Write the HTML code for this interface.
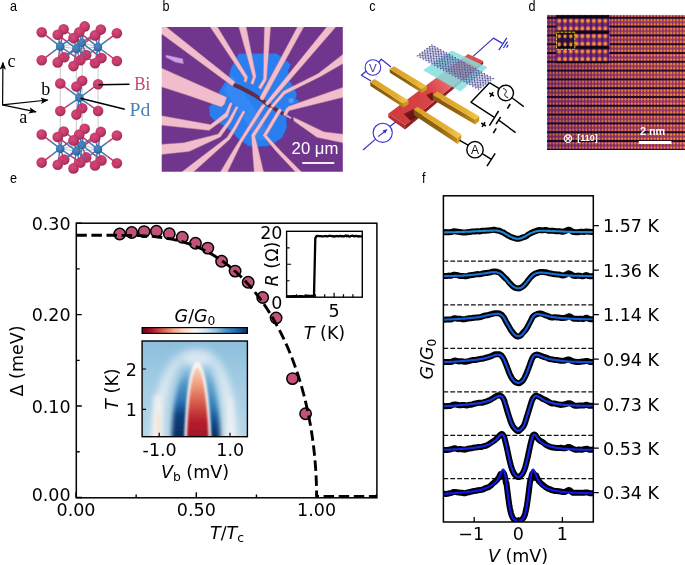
<!DOCTYPE html>
<html><head><meta charset="utf-8"><title>Figure</title>
<style>
html,body{margin:0;padding:0;background:#fff;}
svg{display:block;}
text{white-space:pre;}
</style></head><body>
<svg width="685" height="565" viewBox="0 0 685 565">
<defs>
<radialGradient id="gBi" cx="0.42" cy="0.36" r="0.7"><stop offset="0" stop-color="#d64a7c"/><stop offset="0.55" stop-color="#c53a6c"/><stop offset="1" stop-color="#8f2750"/></radialGradient><radialGradient id="gPd" cx="0.42" cy="0.36" r="0.7"><stop offset="0" stop-color="#4a8ac6"/><stop offset="0.55" stop-color="#3c78b2"/><stop offset="1" stop-color="#28527f"/></radialGradient><marker id="arr" viewBox="0 0 10 8" refX="9" refY="4" markerWidth="8" markerHeight="6.4" orient="auto" markerUnits="userSpaceOnUse"><path d="M0 0 L10 4 L0 8 L2.5 4 Z" fill="#000"/></marker><clipPath id="clipB"><rect x="161.7" y="26.9" width="181.10000000000002" height="144.9"/></clipPath><filter id="blb" x="-5%" y="-5%" width="110%" height="110%"><feGaussianBlur stdDeviation="0.45"/></filter><linearGradient id="redtop" gradientUnits="userSpaceOnUse" x1="390" y1="115" x2="480" y2="60"><stop offset="0" stop-color="#cf3a3c"/><stop offset="0.45" stop-color="#d94548"/><stop offset="0.62" stop-color="#e8686a"/><stop offset="1" stop-color="#d94a4c"/></linearGradient><linearGradient id="notch" x1="0" x2="1" y1="0" y2="1"><stop offset="0" stop-color="#8a1c20"/><stop offset="1" stop-color="#5a0e12"/></linearGradient><linearGradient id="goldtop" x1="0" x2="1" y1="0" y2="0"><stop offset="0" stop-color="#d9a024"/><stop offset="0.7" stop-color="#e5b030"/><stop offset="1" stop-color="#f2c84a"/></linearGradient><linearGradient id="goldfront" x1="0" x2="1" y1="0" y2="0"><stop offset="0" stop-color="#7f560e"/><stop offset="0.6" stop-color="#93650f"/><stop offset="1" stop-color="#c08a1c"/></linearGradient><clipPath id="clipD"><rect x="547.0" y="14.8" width="138.5" height="135.2"/></clipPath><radialGradient id="dot"><stop offset="0" stop-color="#ffaa2c"/><stop offset="0.4" stop-color="#f88a32"/><stop offset="0.75" stop-color="#d8505c" stop-opacity="0.9"/><stop offset="1" stop-color="#a83070" stop-opacity="0"/></radialGradient><linearGradient id="colg" x1="0" x2="1" y1="0" y2="0"><stop offset="0" stop-color="#561a7c"/><stop offset="0.5" stop-color="#b03a70"/><stop offset="1" stop-color="#561a7c"/></linearGradient><linearGradient id="rowg" x1="0" x2="0" y1="0" y2="1"><stop offset="0" stop-color="#0a0418" stop-opacity="0.97"/><stop offset="0.06" stop-color="#0a0418" stop-opacity="0.88"/><stop offset="0.15" stop-color="#0a0418" stop-opacity="0.0"/><stop offset="0.5" stop-color="#2a0a60" stop-opacity="0.12"/><stop offset="0.85" stop-color="#0a0418" stop-opacity="0.0"/><stop offset="0.94" stop-color="#0a0418" stop-opacity="0.88"/><stop offset="1" stop-color="#0a0418" stop-opacity="0.97"/></linearGradient><pattern id="stem" x="532.47" y="9.0" width="3.260" height="8.800" patternUnits="userSpaceOnUse"><rect width="3.260" height="8.800" fill="url(#colg)"/><ellipse cx="1.630" cy="2.376" rx="1.630" ry="2.068" fill="url(#dot)"/><ellipse cx="1.630" cy="6.468" rx="1.630" ry="2.068" fill="url(#dot)"/><ellipse cx="0" cy="4.400" rx="1.174" ry="1.144" fill="url(#dot)" opacity="0.3"/><ellipse cx="3.260" cy="4.400" rx="1.174" ry="1.144" fill="url(#dot)" opacity="0.3"/><rect width="3.260" height="8.800" fill="url(#rowg)"/></pattern><linearGradient id="dvar" x1="0" x2="1" y1="0" y2="0"><stop offset="0" stop-color="#200850" stop-opacity="0.28"/><stop offset="0.45" stop-color="#200850" stop-opacity="0.08"/><stop offset="1" stop-color="#ff9a30" stop-opacity="0.06"/></linearGradient><radialGradient id="dot2"><stop offset="0" stop-color="#ffd040"/><stop offset="0.3" stop-color="#ffab2e"/><stop offset="0.6" stop-color="#f2803a"/><stop offset="0.85" stop-color="#d2505e" stop-opacity="0.8"/><stop offset="1" stop-color="#a03078" stop-opacity="0"/></radialGradient><linearGradient id="colg2" x1="0" x2="1" y1="0" y2="0"><stop offset="0" stop-color="#4e1880"/><stop offset="0.5" stop-color="#b03c74"/><stop offset="1" stop-color="#4e1880"/></linearGradient><linearGradient id="rowg2" x1="0" x2="0" y1="0" y2="1"><stop offset="0" stop-color="#06020e" stop-opacity="0.97"/><stop offset="0.07" stop-color="#06020e" stop-opacity="0.9"/><stop offset="0.16" stop-color="#06020e" stop-opacity="0.0"/><stop offset="0.5" stop-color="#3a1078" stop-opacity="0.35"/><stop offset="0.84" stop-color="#06020e" stop-opacity="0.0"/><stop offset="0.93" stop-color="#06020e" stop-opacity="0.9"/><stop offset="1" stop-color="#06020e" stop-opacity="0.97"/></linearGradient><pattern id="stem2" x="556.42" y="16.9" width="5.75" height="15.3" patternUnits="userSpaceOnUse"><rect width="5.75" height="15.3" fill="url(#colg2)"/><ellipse cx="2.875" cy="4.13" rx="2.59" ry="2.75" fill="url(#dot2)"/><ellipse cx="2.875" cy="11.40" rx="2.59" ry="2.75" fill="url(#dot2)"/><rect width="5.75" height="15.3" fill="url(#rowg2)"/></pattern><clipPath id="clipE"><rect x="76.3" y="223.2" width="300.59999999999997" height="275.6"/></clipPath><clipPath id="clipH"><rect x="142.1" y="341.0" width="105.30000000000001" height="95.69999999999999"/></clipPath><filter id="bl3" x="-30%" y="-30%" width="160%" height="160%"><feGaussianBlur stdDeviation="3"/></filter><filter id="bl2" x="-30%" y="-30%" width="160%" height="160%"><feGaussianBlur stdDeviation="2"/></filter><filter id="bl15" x="-30%" y="-30%" width="160%" height="160%"><feGaussianBlur stdDeviation="1.3"/></filter><filter id="bl5" x="-30%" y="-30%" width="160%" height="160%"><feGaussianBlur stdDeviation="5"/></filter><linearGradient id="hbg" x1="0" x2="0" y1="0" y2="1"><stop offset="0" stop-color="#8cbfdd"/><stop offset="0.5" stop-color="#a5cde4"/><stop offset="1" stop-color="#b5d6e8"/></linearGradient><filter id="bl4" x="-30%" y="-30%" width="160%" height="160%"><feGaussianBlur stdDeviation="3.5"/></filter><linearGradient id="arcg" gradientUnits="userSpaceOnUse" x1="0" x2="0" y1="345" y2="437"><stop offset="0" stop-color="#eef3f6" stop-opacity="0.45"/><stop offset="0.45" stop-color="#f2f4f5" stop-opacity="0.7"/><stop offset="1" stop-color="#f6f4f2" stop-opacity="0.95"/></linearGradient><linearGradient id="lobe" gradientUnits="userSpaceOnUse" x1="0" x2="0" y1="368" y2="437"><stop offset="0" stop-color="#4a95c5" stop-opacity="0"/><stop offset="0.22" stop-color="#4690c3" stop-opacity="0.85"/><stop offset="0.5" stop-color="#2a70b0" stop-opacity="1"/><stop offset="0.68" stop-color="#0c3f7d" stop-opacity="1"/><stop offset="1" stop-color="#053061" stop-opacity="1"/></linearGradient><linearGradient id="lobeR" gradientUnits="userSpaceOnUse" x1="0" x2="0" y1="368" y2="437"><stop offset="0" stop-color="#4a95c5" stop-opacity="0"/><stop offset="0.25" stop-color="#4f98c7" stop-opacity="0.8"/><stop offset="0.55" stop-color="#3580ba" stop-opacity="1"/><stop offset="0.8" stop-color="#124a8a" stop-opacity="1"/><stop offset="1" stop-color="#053061" stop-opacity="1"/></linearGradient><linearGradient id="dome" x1="0" x2="0" y1="0" y2="1"><stop offset="0" stop-color="#f9d3bd"/><stop offset="0.2" stop-color="#f2a585"/><stop offset="0.45" stop-color="#d9614f"/><stop offset="0.7" stop-color="#b8222f"/><stop offset="1" stop-color="#9c0f25"/></linearGradient><linearGradient id="rdbu" x1="0" x2="1" y1="0" y2="0"><stop offset="0" stop-color="#67001f"/><stop offset="0.1" stop-color="#b2182b"/><stop offset="0.2" stop-color="#d6604d"/><stop offset="0.3" stop-color="#f4a582"/><stop offset="0.4" stop-color="#fddbc7"/><stop offset="0.5" stop-color="#f7f7f7"/><stop offset="0.6" stop-color="#d1e5f0"/><stop offset="0.7" stop-color="#92c5de"/><stop offset="0.8" stop-color="#4393c3"/><stop offset="0.9" stop-color="#2166ac"/><stop offset="1" stop-color="#053061"/></linearGradient><clipPath id="clipF"><rect x="443.4" y="195.8" width="149.89999999999998" height="326.2"/></clipPath>
</defs>
<rect width="685" height="565" fill="#fff"/>
<text transform="translate(10.1,10.7) scale(0.87,1)" font-size="14.5" font-family="'Liberation Sans','DejaVu Sans',sans-serif" fill="#000">a</text>
<text transform="translate(162.6,10.7) scale(0.87,1)" font-size="14.5" font-family="'Liberation Sans','DejaVu Sans',sans-serif" fill="#000">b</text>
<text transform="translate(369.3,10.7) scale(0.87,1)" font-size="14.5" font-family="'Liberation Sans','DejaVu Sans',sans-serif" fill="#000">c</text>
<text transform="translate(528.4,10.6) scale(0.87,1)" font-size="14.5" font-family="'Liberation Sans','DejaVu Sans',sans-serif" fill="#000">d</text>
<text transform="translate(10,183) scale(0.87,1)" font-size="14.5" font-family="'Liberation Sans','DejaVu Sans',sans-serif" fill="#000">e</text>
<text transform="translate(422.1,182.8) scale(0.87,1)" font-size="14.5" font-family="'Liberation Sans','DejaVu Sans',sans-serif" fill="#000">f</text>
<g><path d="M60.3 47 V150" stroke="#b5b5b5" stroke-width="0.7"/><path d="M76.4 47 V150" stroke="#b5b5b5" stroke-width="0.7"/><path d="M82.2 47 V150" stroke="#b5b5b5" stroke-width="0.7"/><path d="M98.1 47 V150" stroke="#b5b5b5" stroke-width="0.7"/><path d="M60.2 46.4 L76.4 48.9 L97.9 47.1 L81.8 42.7 Z" stroke="#9a9a9a" stroke-width="0.6" fill="none"/><circle cx="86.2" cy="55.1" r="5.3" fill="url(#gBi)"/><circle cx="101.5" cy="58.1" r="5.3" fill="url(#gBi)"/><circle cx="116.9" cy="61.0" r="5.3" fill="url(#gBi)"/><path d="M81.8 42.7 L73.0 50.0" stroke="#3f7ab5" stroke-width="1.5"/><path d="M73.0 50.0 L64.3 57.3" stroke="#c0386a" stroke-width="1.5"/><path d="M81.8 42.7 L72.7 36.0" stroke="#3f7ab5" stroke-width="1.5"/><path d="M72.7 36.0 L63.6 29.2" stroke="#c0386a" stroke-width="1.5"/><path d="M81.8 42.7 L84.0 48.9" stroke="#3f7ab5" stroke-width="1.5"/><path d="M84.0 48.9 L86.2 55.1" stroke="#c0386a" stroke-width="1.5"/><path d="M81.8 42.7 L83.2 34.5" stroke="#3f7ab5" stroke-width="1.5"/><path d="M83.2 34.5 L84.7 26.4" stroke="#c0386a" stroke-width="1.5"/><path d="M81.8 42.7 L81.1 51.5" stroke="#3f7ab5" stroke-width="1.5"/><path d="M81.1 51.5 L80.4 60.3" stroke="#c0386a" stroke-width="1.5"/><path d="M81.8 42.7 L80.5 37.5" stroke="#3f7ab5" stroke-width="1.5"/><path d="M80.5 37.5 L79.2 32.2" stroke="#c0386a" stroke-width="1.5"/><path d="M81.8 42.7 L91.7 50.4" stroke="#3f7ab5" stroke-width="1.5"/><path d="M91.7 50.4 L101.5 58.1" stroke="#c0386a" stroke-width="1.5"/><path d="M81.8 42.7 L91.3 36.2" stroke="#3f7ab5" stroke-width="1.5"/><path d="M91.3 36.2 L100.8 29.6" stroke="#c0386a" stroke-width="1.5"/><circle cx="81.8" cy="42.7" r="4.3" fill="url(#gPd)"/><path d="M97.9 47.1 L89.2 53.7" stroke="#3f7ab5" stroke-width="1.5"/><path d="M89.2 53.7 L80.4 60.3" stroke="#c0386a" stroke-width="1.5"/><path d="M97.9 47.1 L88.6 39.7" stroke="#3f7ab5" stroke-width="1.5"/><path d="M88.6 39.7 L79.2 32.2" stroke="#c0386a" stroke-width="1.5"/><path d="M97.9 47.1 L99.7 52.6" stroke="#3f7ab5" stroke-width="1.5"/><path d="M99.7 52.6 L101.5 58.1" stroke="#c0386a" stroke-width="1.5"/><path d="M97.9 47.1 L99.3 38.4" stroke="#3f7ab5" stroke-width="1.5"/><path d="M99.3 38.4 L100.8 29.6" stroke="#c0386a" stroke-width="1.5"/><path d="M97.9 47.1 L96.5 55.2" stroke="#3f7ab5" stroke-width="1.5"/><path d="M96.5 55.2 L95.0 63.2" stroke="#c0386a" stroke-width="1.5"/><path d="M97.9 47.1 L96.5 41.2" stroke="#3f7ab5" stroke-width="1.5"/><path d="M96.5 41.2 L95.0 35.4" stroke="#c0386a" stroke-width="1.5"/><path d="M97.9 47.1 L107.4 54.0" stroke="#3f7ab5" stroke-width="1.5"/><path d="M107.4 54.0 L116.9 61.0" stroke="#c0386a" stroke-width="1.5"/><path d="M97.9 47.1 L107.4 40.2" stroke="#3f7ab5" stroke-width="1.5"/><path d="M107.4 40.2 L116.9 33.2" stroke="#c0386a" stroke-width="1.5"/><circle cx="97.9" cy="47.1" r="4.3" fill="url(#gPd)"/><circle cx="64.3" cy="57.3" r="5.3" fill="url(#gBi)"/><circle cx="80.4" cy="60.3" r="5.3" fill="url(#gBi)"/><circle cx="95.0" cy="63.2" r="5.3" fill="url(#gBi)"/><path d="M60.2 46.4 L51.0 53.3" stroke="#3f7ab5" stroke-width="1.5"/><path d="M51.0 53.3 L41.7 60.3" stroke="#c0386a" stroke-width="1.5"/><path d="M60.2 46.4 L51.0 39.3" stroke="#3f7ab5" stroke-width="1.5"/><path d="M51.0 39.3 L41.7 32.2" stroke="#c0386a" stroke-width="1.5"/><path d="M60.2 46.4 L62.2 51.8" stroke="#3f7ab5" stroke-width="1.5"/><path d="M62.2 51.8 L64.3 57.3" stroke="#c0386a" stroke-width="1.5"/><path d="M60.2 46.4 L61.9 37.8" stroke="#3f7ab5" stroke-width="1.5"/><path d="M61.9 37.8 L63.6 29.2" stroke="#c0386a" stroke-width="1.5"/><path d="M60.2 46.4 L59.0 54.4" stroke="#3f7ab5" stroke-width="1.5"/><path d="M59.0 54.4 L57.7 62.4" stroke="#c0386a" stroke-width="1.5"/><path d="M60.2 46.4 L59.0 40.5" stroke="#3f7ab5" stroke-width="1.5"/><path d="M59.0 40.5 L57.7 34.7" stroke="#c0386a" stroke-width="1.5"/><path d="M60.2 46.4 L70.3 53.3" stroke="#3f7ab5" stroke-width="1.5"/><path d="M70.3 53.3 L80.4 60.3" stroke="#c0386a" stroke-width="1.5"/><path d="M60.2 46.4 L69.7 39.3" stroke="#3f7ab5" stroke-width="1.5"/><path d="M69.7 39.3 L79.2 32.2" stroke="#c0386a" stroke-width="1.5"/><circle cx="60.2" cy="46.4" r="4.3" fill="url(#gPd)"/><path d="M76.4 48.9 L67.1 55.6" stroke="#3f7ab5" stroke-width="1.5"/><path d="M67.1 55.6 L57.7 62.4" stroke="#c0386a" stroke-width="1.5"/><path d="M76.4 48.9 L67.1 41.8" stroke="#3f7ab5" stroke-width="1.5"/><path d="M67.1 41.8 L57.7 34.7" stroke="#c0386a" stroke-width="1.5"/><path d="M76.4 48.9 L78.4 54.6" stroke="#3f7ab5" stroke-width="1.5"/><path d="M78.4 54.6 L80.4 60.3" stroke="#c0386a" stroke-width="1.5"/><path d="M76.4 48.9 L77.8 40.5" stroke="#3f7ab5" stroke-width="1.5"/><path d="M77.8 40.5 L79.2 32.2" stroke="#c0386a" stroke-width="1.5"/><path d="M76.4 48.9 L75.0 57.5" stroke="#3f7ab5" stroke-width="1.5"/><path d="M75.0 57.5 L73.5 66.1" stroke="#c0386a" stroke-width="1.5"/><path d="M76.4 48.9 L75.0 43.5" stroke="#3f7ab5" stroke-width="1.5"/><path d="M75.0 43.5 L73.5 38.1" stroke="#c0386a" stroke-width="1.5"/><path d="M76.4 48.9 L85.7 56.0" stroke="#3f7ab5" stroke-width="1.5"/><path d="M85.7 56.0 L95.0 63.2" stroke="#c0386a" stroke-width="1.5"/><path d="M76.4 48.9 L85.7 42.1" stroke="#3f7ab5" stroke-width="1.5"/><path d="M85.7 42.1 L95.0 35.4" stroke="#c0386a" stroke-width="1.5"/><circle cx="76.4" cy="48.9" r="4.3" fill="url(#gPd)"/><circle cx="41.7" cy="60.3" r="5.3" fill="url(#gBi)"/><circle cx="57.7" cy="62.4" r="5.3" fill="url(#gBi)"/><circle cx="73.5" cy="66.1" r="5.3" fill="url(#gBi)"/><circle cx="84.7" cy="26.4" r="5.3" fill="url(#gBi)"/><circle cx="100.8" cy="29.6" r="5.3" fill="url(#gBi)"/><circle cx="116.9" cy="33.2" r="5.3" fill="url(#gBi)"/><circle cx="63.6" cy="29.2" r="5.3" fill="url(#gBi)"/><circle cx="79.2" cy="32.2" r="5.3" fill="url(#gBi)"/><circle cx="95.0" cy="35.4" r="5.3" fill="url(#gBi)"/><circle cx="41.7" cy="32.2" r="5.3" fill="url(#gBi)"/><circle cx="57.7" cy="34.7" r="5.3" fill="url(#gBi)"/><circle cx="73.5" cy="38.1" r="5.3" fill="url(#gBi)"/><circle cx="82.2" cy="108.3" r="5.3" fill="url(#gBi)"/><circle cx="60.3" cy="111.0" r="5.3" fill="url(#gBi)"/><circle cx="98.1" cy="111.0" r="5.3" fill="url(#gBi)"/><circle cx="76.4" cy="114.6" r="5.3" fill="url(#gBi)"/><path d="M79.4 97.8 L80.8 103.0" stroke="#3f7ab5" stroke-width="1.5"/><path d="M80.8 103.0 L82.2 108.3" stroke="#c0386a" stroke-width="1.5"/><path d="M79.4 97.8 L69.8 104.4" stroke="#3f7ab5" stroke-width="1.5"/><path d="M69.8 104.4 L60.3 111.0" stroke="#c0386a" stroke-width="1.5"/><path d="M79.4 97.8 L88.8 104.4" stroke="#3f7ab5" stroke-width="1.5"/><path d="M88.8 104.4 L98.1 111.0" stroke="#c0386a" stroke-width="1.5"/><path d="M79.4 97.8 L77.9 106.2" stroke="#3f7ab5" stroke-width="1.5"/><path d="M77.9 106.2 L76.4 114.6" stroke="#c0386a" stroke-width="1.5"/><path d="M79.4 97.8 L80.8 89.2" stroke="#3f7ab5" stroke-width="1.5"/><path d="M80.8 89.2 L82.2 80.7" stroke="#c0386a" stroke-width="1.5"/><path d="M79.4 97.8 L69.8 90.7" stroke="#3f7ab5" stroke-width="1.5"/><path d="M69.8 90.7 L60.3 83.5" stroke="#c0386a" stroke-width="1.5"/><path d="M79.4 97.8 L88.8 91.0" stroke="#3f7ab5" stroke-width="1.5"/><path d="M88.8 91.0 L98.1 84.2" stroke="#c0386a" stroke-width="1.5"/><path d="M79.4 97.8 L77.9 92.2" stroke="#3f7ab5" stroke-width="1.5"/><path d="M77.9 92.2 L76.4 86.5" stroke="#c0386a" stroke-width="1.5"/><circle cx="79.4" cy="97.8" r="4.3" fill="url(#gPd)"/><circle cx="82.2" cy="80.7" r="5.3" fill="url(#gBi)"/><circle cx="60.3" cy="83.5" r="5.3" fill="url(#gBi)"/><circle cx="98.1" cy="84.2" r="5.3" fill="url(#gBi)"/><circle cx="76.4" cy="86.5" r="5.3" fill="url(#gBi)"/><path d="M60.2 148.7 L76.4 151.2 L97.9 149.4 L81.8 145.0 Z" stroke="#9a9a9a" stroke-width="0.6" fill="none"/><circle cx="86.2" cy="157.4" r="5.3" fill="url(#gBi)"/><circle cx="101.5" cy="160.4" r="5.3" fill="url(#gBi)"/><circle cx="116.9" cy="163.3" r="5.3" fill="url(#gBi)"/><path d="M81.8 145.0 L73.0 152.3" stroke="#3f7ab5" stroke-width="1.5"/><path d="M73.0 152.3 L64.3 159.6" stroke="#c0386a" stroke-width="1.5"/><path d="M81.8 145.0 L72.7 138.2" stroke="#3f7ab5" stroke-width="1.5"/><path d="M72.7 138.2 L63.6 131.5" stroke="#c0386a" stroke-width="1.5"/><path d="M81.8 145.0 L84.0 151.2" stroke="#3f7ab5" stroke-width="1.5"/><path d="M84.0 151.2 L86.2 157.4" stroke="#c0386a" stroke-width="1.5"/><path d="M81.8 145.0 L83.2 136.8" stroke="#3f7ab5" stroke-width="1.5"/><path d="M83.2 136.8 L84.7 128.7" stroke="#c0386a" stroke-width="1.5"/><path d="M81.8 145.0 L81.1 153.8" stroke="#3f7ab5" stroke-width="1.5"/><path d="M81.1 153.8 L80.4 162.6" stroke="#c0386a" stroke-width="1.5"/><path d="M81.8 145.0 L80.5 139.8" stroke="#3f7ab5" stroke-width="1.5"/><path d="M80.5 139.8 L79.2 134.5" stroke="#c0386a" stroke-width="1.5"/><path d="M81.8 145.0 L91.7 152.7" stroke="#3f7ab5" stroke-width="1.5"/><path d="M91.7 152.7 L101.5 160.4" stroke="#c0386a" stroke-width="1.5"/><path d="M81.8 145.0 L91.3 138.4" stroke="#3f7ab5" stroke-width="1.5"/><path d="M91.3 138.4 L100.8 131.9" stroke="#c0386a" stroke-width="1.5"/><circle cx="81.8" cy="145.0" r="4.3" fill="url(#gPd)"/><path d="M97.9 149.4 L89.2 156.0" stroke="#3f7ab5" stroke-width="1.5"/><path d="M89.2 156.0 L80.4 162.6" stroke="#c0386a" stroke-width="1.5"/><path d="M97.9 149.4 L88.6 141.9" stroke="#3f7ab5" stroke-width="1.5"/><path d="M88.6 141.9 L79.2 134.5" stroke="#c0386a" stroke-width="1.5"/><path d="M97.9 149.4 L99.7 154.9" stroke="#3f7ab5" stroke-width="1.5"/><path d="M99.7 154.9 L101.5 160.4" stroke="#c0386a" stroke-width="1.5"/><path d="M97.9 149.4 L99.3 140.7" stroke="#3f7ab5" stroke-width="1.5"/><path d="M99.3 140.7 L100.8 131.9" stroke="#c0386a" stroke-width="1.5"/><path d="M97.9 149.4 L96.5 157.4" stroke="#3f7ab5" stroke-width="1.5"/><path d="M96.5 157.4 L95.0 165.5" stroke="#c0386a" stroke-width="1.5"/><path d="M97.9 149.4 L96.5 143.6" stroke="#3f7ab5" stroke-width="1.5"/><path d="M96.5 143.6 L95.0 137.7" stroke="#c0386a" stroke-width="1.5"/><path d="M97.9 149.4 L107.4 156.4" stroke="#3f7ab5" stroke-width="1.5"/><path d="M107.4 156.4 L116.9 163.3" stroke="#c0386a" stroke-width="1.5"/><path d="M97.9 149.4 L107.4 142.4" stroke="#3f7ab5" stroke-width="1.5"/><path d="M107.4 142.4 L116.9 135.5" stroke="#c0386a" stroke-width="1.5"/><circle cx="97.9" cy="149.4" r="4.3" fill="url(#gPd)"/><circle cx="64.3" cy="159.6" r="5.3" fill="url(#gBi)"/><circle cx="80.4" cy="162.6" r="5.3" fill="url(#gBi)"/><circle cx="95.0" cy="165.5" r="5.3" fill="url(#gBi)"/><path d="M60.2 148.7 L51.0 155.6" stroke="#3f7ab5" stroke-width="1.5"/><path d="M51.0 155.6 L41.7 162.6" stroke="#c0386a" stroke-width="1.5"/><path d="M60.2 148.7 L51.0 141.6" stroke="#3f7ab5" stroke-width="1.5"/><path d="M51.0 141.6 L41.7 134.5" stroke="#c0386a" stroke-width="1.5"/><path d="M60.2 148.7 L62.2 154.1" stroke="#3f7ab5" stroke-width="1.5"/><path d="M62.2 154.1 L64.3 159.6" stroke="#c0386a" stroke-width="1.5"/><path d="M60.2 148.7 L61.9 140.1" stroke="#3f7ab5" stroke-width="1.5"/><path d="M61.9 140.1 L63.6 131.5" stroke="#c0386a" stroke-width="1.5"/><path d="M60.2 148.7 L59.0 156.7" stroke="#3f7ab5" stroke-width="1.5"/><path d="M59.0 156.7 L57.7 164.7" stroke="#c0386a" stroke-width="1.5"/><path d="M60.2 148.7 L59.0 142.8" stroke="#3f7ab5" stroke-width="1.5"/><path d="M59.0 142.8 L57.7 137.0" stroke="#c0386a" stroke-width="1.5"/><path d="M60.2 148.7 L70.3 155.6" stroke="#3f7ab5" stroke-width="1.5"/><path d="M70.3 155.6 L80.4 162.6" stroke="#c0386a" stroke-width="1.5"/><path d="M60.2 148.7 L69.7 141.6" stroke="#3f7ab5" stroke-width="1.5"/><path d="M69.7 141.6 L79.2 134.5" stroke="#c0386a" stroke-width="1.5"/><circle cx="60.2" cy="148.7" r="4.3" fill="url(#gPd)"/><path d="M76.4 151.2 L67.1 157.9" stroke="#3f7ab5" stroke-width="1.5"/><path d="M67.1 157.9 L57.7 164.7" stroke="#c0386a" stroke-width="1.5"/><path d="M76.4 151.2 L67.1 144.1" stroke="#3f7ab5" stroke-width="1.5"/><path d="M67.1 144.1 L57.7 137.0" stroke="#c0386a" stroke-width="1.5"/><path d="M76.4 151.2 L78.4 156.9" stroke="#3f7ab5" stroke-width="1.5"/><path d="M78.4 156.9 L80.4 162.6" stroke="#c0386a" stroke-width="1.5"/><path d="M76.4 151.2 L77.8 142.8" stroke="#3f7ab5" stroke-width="1.5"/><path d="M77.8 142.8 L79.2 134.5" stroke="#c0386a" stroke-width="1.5"/><path d="M76.4 151.2 L75.0 159.8" stroke="#3f7ab5" stroke-width="1.5"/><path d="M75.0 159.8 L73.5 168.4" stroke="#c0386a" stroke-width="1.5"/><path d="M76.4 151.2 L75.0 145.8" stroke="#3f7ab5" stroke-width="1.5"/><path d="M75.0 145.8 L73.5 140.4" stroke="#c0386a" stroke-width="1.5"/><path d="M76.4 151.2 L85.7 158.3" stroke="#3f7ab5" stroke-width="1.5"/><path d="M85.7 158.3 L95.0 165.5" stroke="#c0386a" stroke-width="1.5"/><path d="M76.4 151.2 L85.7 144.4" stroke="#3f7ab5" stroke-width="1.5"/><path d="M85.7 144.4 L95.0 137.7" stroke="#c0386a" stroke-width="1.5"/><circle cx="76.4" cy="151.2" r="4.3" fill="url(#gPd)"/><circle cx="41.7" cy="162.6" r="5.3" fill="url(#gBi)"/><circle cx="57.7" cy="164.7" r="5.3" fill="url(#gBi)"/><circle cx="73.5" cy="168.4" r="5.3" fill="url(#gBi)"/><circle cx="84.7" cy="128.7" r="5.3" fill="url(#gBi)"/><circle cx="100.8" cy="131.9" r="5.3" fill="url(#gBi)"/><circle cx="116.9" cy="135.5" r="5.3" fill="url(#gBi)"/><circle cx="63.6" cy="131.5" r="5.3" fill="url(#gBi)"/><circle cx="79.2" cy="134.5" r="5.3" fill="url(#gBi)"/><circle cx="95.0" cy="137.7" r="5.3" fill="url(#gBi)"/><circle cx="41.7" cy="134.5" r="5.3" fill="url(#gBi)"/><circle cx="57.7" cy="137.0" r="5.3" fill="url(#gBi)"/><circle cx="73.5" cy="140.4" r="5.3" fill="url(#gBi)"/></g>
<path d="M98.5 84.7 L129.5 84.2 M80.5 98.2 L124.8 109.2" stroke="#000" stroke-width="1.5" fill="none"/>
<text x="134.3" y="90.2" font-size="19.5" font-family="'Liberation Serif','DejaVu Serif',serif" text-anchor="start" fill="#c4456d" textLength="16" lengthAdjust="spacingAndGlyphs">Bi</text>
<text x="129.6" y="116.3" font-size="19.5" font-family="'Liberation Serif','DejaVu Serif',serif" text-anchor="start" fill="#4a7fb6" textLength="20.8" lengthAdjust="spacingAndGlyphs">Pd</text>
<path d="M2.6 105 L2.9 62.5" stroke="#000" stroke-width="1.2" marker-end="url(#arr)"/>
<path d="M2.2 104.8 L47.8 100" stroke="#000" stroke-width="1.2" marker-end="url(#arr)"/>
<path d="M2.2 104.8 L36 111.8" stroke="#000" stroke-width="1.2" marker-end="url(#arr)"/>
<text x="7.6" y="66.8" font-size="18" font-family="'Liberation Serif','DejaVu Serif',serif" text-anchor="start" fill="#000" >c</text>
<text x="41.2" y="94.8" font-size="18" font-family="'Liberation Serif','DejaVu Serif',serif" text-anchor="start" fill="#000" >b</text>
<text x="19.2" y="122.8" font-size="18" font-family="'Liberation Serif','DejaVu Serif',serif" text-anchor="start" fill="#000" >a</text>
<g clip-path="url(#clipB)"><g filter="url(#blb)"><rect x="159.7" y="24.9" width="185.10000000000002" height="148.9" fill="#6f358c"/><path d="M238.9 53.6 L276.4 53.3 L284.7 59.5 L290.8 64.6 L288.3 70.2 L288.3 79.4 L292.9 85.5 L297.0 94.7 L295.4 99.3 L299.0 100.4 L298.5 102.4 L288.3 106.5 L286.2 119.4 L286.8 127.6 L282.2 137.8 L275.0 142.5 L268.4 146.1 L253.8 146.8 L248.4 146.1 L238.2 138.8 L230.9 130.8 L223.6 125.7 L213.4 119.8 L209.7 115.4 L209.0 106.7 L217.8 100.0 L219.2 91.5 L228.7 76.2 L230.9 68.2 Z" fill="#2a7ff0" stroke="#2a62c8" stroke-width="0.6" stroke-linejoin="round" /><path d="M232 75 L262 120 L270 140 L258 140 L224 90 Z" fill="#3d8ff5" opacity="0.55"/><circle cx="291" cy="100.5" r="2.6" fill="#8fbcf5" opacity="0.45"/><path d="M165.9 55.0 L182.7 58.7 L183.5 63.8 L175.4 62.3 L165.9 57.2 Z" fill="#caa0e2" stroke="#a070c0" stroke-width="0.4" stroke-linejoin="round" /><path d="M234.5 83.2 C244 87 252 91 260.9 97.6 C268 103 276 108.5 286.5 114.2 L285.5 116.4 C275 111.5 267 106 259.5 100.4 C251 94.5 243 90.5 233.6 86.4 Z" fill="#6a2a40" stroke="#3a1828" stroke-width="0.4"/><path d="M286.2 114.0 L291.6 117.6 L290.8 119.0 L285.4 116.3 Z" fill="#c8a2de" /><path d="M159.3 25.2 L159.3 32.3 L232.2 86.1 L235.3 82.1 L166.2 26.8 Z" fill="#f1bccb" stroke="#b5708c" stroke-width="0.5" stroke-linejoin="round" /><path d="M159.3 67.1 L159.3 86.3 L185.1 94.5 L221.3 107.0 L224.5 104.3 L226.8 97.2 Z" fill="#f1bccb" stroke="#b5708c" stroke-width="0.5" stroke-linejoin="round" /><path d="M159.3 115.3 L159.3 125.1 L208.9 130.4 L227.7 116.7 L232.4 103.6 L231.2 102.4 L229.7 102.9 L225.4 112.7 L210.6 124.6 Z" fill="#f1bccb" stroke="#b5708c" stroke-width="0.5" stroke-linejoin="round" /><path d="M159.3 144.4 L159.3 154.8 L189.2 151.6 L220.5 137.0 L231.3 121.8 L238.2 107.5 L237.2 106.2 L235.8 106.6 L228.3 120.0 L218.0 134.0 L183.6 142.7 Z" fill="#f1bccb" stroke="#b5708c" stroke-width="0.5" stroke-linejoin="round" /><path d="M179.3 173.7 L191.7 173.7 L229.9 139.3 L236.5 128.4 L245.2 111.9 L243.9 110.6 L242.5 111.3 L233.4 127.3 L226.8 137.5 Z" fill="#f1bccb" stroke="#b5708c" stroke-width="0.5" stroke-linejoin="round" /><path d="M261.6 105.0 L232.6 151.2 L219.2 173.7 L226.7 173.7 L241.7 142.8 L265.6 105.7 L263.7 103.9 Z" fill="#f1bccb" stroke="#b5708c" stroke-width="0.5" stroke-linejoin="round" /><path d="M269.2 108.1 L251.2 135.1 L254.2 173.7 L264.1 173.7 L255.1 136.1 L272.7 108.8 L271.1 107.0 Z" fill="#f1bccb" stroke="#b5708c" stroke-width="0.5" stroke-linejoin="round" /><path d="M278.0 109.7 L262.8 135.4 L275.5 150.8 L297.0 173.7 L303.4 173.7 L281.0 151.2 L266.8 135.4 L281.9 110.3 L280.0 108.3 Z" fill="#f1bccb" stroke="#b5708c" stroke-width="0.5" stroke-linejoin="round" /><path d="M209.1 25.4 L244.3 77.9 L243.8 81.4 L246.4 82.4 L247.9 77.0 L216.7 25.4 Z" fill="#f1bccb" stroke="#b5708c" stroke-width="0.5" stroke-linejoin="round" /><path d="M238.3 25.4 L252.8 77.0 L250.5 83.4 L253.3 84.7 L256.2 76.3 L246.0 25.4 Z" fill="#f1bccb" stroke="#b5708c" stroke-width="0.5" stroke-linejoin="round" /><path d="M264.3 25.4 L263.2 78.9 L258.2 87.6 L260.8 89.5 L266.6 79.9 L270.8 25.4 Z" fill="#f1bccb" stroke="#b5708c" stroke-width="0.5" stroke-linejoin="round" /><path d="M298.1 25.4 L259.6 97.6 L261.2 99.9 L263.6 99.9 L304.7 25.4 Z" fill="#f1bccb" stroke="#b5708c" stroke-width="0.5" stroke-linejoin="round" /><path d="M327.8 25.4 L265.2 103.0 L266.2 104.9 L268.1 105.2 L337.2 25.4 Z" fill="#f1bccb" stroke="#b5708c" stroke-width="0.5" stroke-linejoin="round" /><path d="M344.6 52.9 L318.1 73.6 L283.4 91.0 L270.6 106.0 L273.1 108.0 L285.0 94.2 L319.8 77.1 L344.6 62.8 Z" fill="#f1bccb" stroke="#b5708c" stroke-width="0.5" stroke-linejoin="round" /><path d="M344.6 86.7 L288.5 106.3 L285.5 109.2 L283.3 114.5 L284.6 116.3 L286.5 115.2 L289.1 110.8 L344.6 97.0 Z" fill="#f1bccb" stroke="#b5708c" stroke-width="0.5" stroke-linejoin="round" /><path d="M293.1 117.2 L293.9 121.1 L317.0 137.4 L344.6 143.2 L344.6 134.3 L323.8 131.8 L298.4 119.5 Z" fill="#f1bccb" stroke="#b5708c" stroke-width="0.5" stroke-linejoin="round" /></g></g>
<rect x="302.2" y="162.1" width="32.1" height="1.8" fill="#fff"/>
<text x="291.6" y="153.6" font-size="16.5" font-family="'Liberation Sans','DejaVu Sans',sans-serif" text-anchor="start" fill="#fff" textLength="46.8" lengthAdjust="spacingAndGlyphs">20 μm</text>
<g><g stroke="#3434cc" stroke-width="1.25" fill="none" stroke-linejoin="round"><path d="M472.8 56.6 L493.5 38.1 L502.4 43.4"/><path d="M506.8 37.8 L498.8 50.1 M507.6 41.6 L503.4 48 M508.3 44.9 L506.5 47.6"/><path d="M378.8 62.3 L381.3 59.2 L391 67"/><path d="M366 71.2 L361.4 75.3 L371 81"/><path d="M396 121.8 L389.9 126.4"/><path d="M375.3 139.4 L363 150"/></g><path d="M388.2 113.8 L405.1 124.9 L405.1 129.6 L388.4 117.6 Z" fill="#b22c30" /><path d="M405.1 124.9 L483.2 61.0 L483.2 64.0 L405.1 129.6 Z" fill="#8c2024" /><path d="M388.2 113.8 L468.1 53.9 L483.2 61.0 L405.1 124.9 Z" fill="url(#redtop)" /><path d="M403.6 114.1 L413.3 108.9 L414.5 110.3 L416.5 117.0 L410.6 120.7 Z" fill="url(#notch)" /><path d="M426.1 95.1 L432.2 92.2 L433.1 93.4 L436.1 99.8 L431.4 100.6 Z" fill="url(#notch)" /><path d="M389.5 68.9 L421.6 89.1 L421.9 93.0 L389.9 72.8 Z" fill="url(#goldfront)" /><path d="M421.6 89.1 L426.9 86.0 L426.9 89.6 L421.9 93.0 Z" fill="#cf9a22" /><path d="M389.5 68.9 L394.0 66.3 L426.9 86.0 L421.6 89.1 Z" fill="url(#goldtop)" /><path d="M370.0 82.0 L403.2 103.5 L403.5 107.6 L370.4 86.1 Z" fill="url(#goldfront)" /><path d="M403.2 103.5 L408.5 100.4 L408.5 104.2 L403.5 107.6 Z" fill="#cf9a22" /><path d="M370.0 82.0 L374.5 79.1 L408.5 100.4 L403.2 103.5 Z" fill="url(#goldtop)" /><path d="M432.6 94.7 L474.9 119.6 L475.2 124.6 L433.0 99.7 Z" fill="url(#goldfront)" /><path d="M474.9 119.6 L479.2 116.2 L479.2 120.9 L475.2 124.6 Z" fill="#cf9a22" /><path d="M432.6 94.7 L437.3 91.6 L479.2 116.2 L474.9 119.6 Z" fill="url(#goldtop)" /><path d="M413.7 109.6 L457.4 138.3 L457.7 143.9 L414.1 115.2 Z" fill="url(#goldfront)" /><path d="M457.4 138.3 L461.1 134.3 L461.1 139.6 L457.7 143.9 Z" fill="#cf9a22" /><path d="M413.7 109.6 L417.4 106.7 L461.1 134.3 L457.4 138.3 Z" fill="url(#goldtop)" /><path d="M423.1 70.3 L451.6 50.5 L487.4 67.3 L460.4 91.4 Z" fill="#86dedd" opacity="0.86"/><path d="M447.0 69.5 L461.0 59.0 L478.0 67.5 L465.0 79.5 Z" fill="#e04050" opacity="0.22"/><path d="M417.3 55.7L422.7 55.5M420.2 57.3L419.7 53.9M419.7 53.9L425.1 53.7M422.7 55.5L422.2 52.1M422.2 52.1L427.5 51.9M425.1 53.7L424.6 50.2M424.6 50.2L430.0 50.0M427.5 51.9L427.0 48.4M427.0 48.4L432.4 48.2M430.0 50.0L429.5 46.6M429.5 46.6L434.8 46.4M432.4 48.2L431.9 44.8M420.2 57.3L425.6 57.1M423.1 58.9L422.7 55.5M422.7 55.5L428.0 55.3M425.6 57.1L425.1 53.7M425.1 53.7L430.4 53.5M428.0 55.3L427.5 51.9M427.5 51.9L432.9 51.6M430.4 53.5L430.0 50.0M430.0 50.0L435.3 49.8M432.9 51.6L432.4 48.2M432.4 48.2L437.7 48.0M435.3 49.8L434.8 46.4M423.1 58.9L428.5 58.7M426.1 60.5L425.6 57.1M425.6 57.1L430.9 56.9M428.5 58.7L428.0 55.3M428.0 55.3L433.4 55.0M430.9 56.9L430.4 53.5M430.4 53.5L435.8 53.2M433.4 55.0L432.9 51.6M432.9 51.6L438.2 51.4M435.8 53.2L435.3 49.8M435.3 49.8L440.7 49.6M438.2 51.4L437.7 48.0M426.1 60.5L431.4 60.3M429.0 62.1L428.5 58.7M428.5 58.7L433.8 58.5M431.4 60.3L430.9 56.9M430.9 56.9L436.3 56.6M433.8 58.5L433.4 55.0M433.4 55.0L438.7 54.8M436.3 56.6L435.8 53.2M435.8 53.2L441.1 53.0M438.7 54.8L438.2 51.4M438.2 51.4L443.6 51.2M441.1 53.0L440.7 49.6M429.0 62.1L434.3 61.9M431.9 63.7L431.4 60.3M431.4 60.3L436.8 60.1M434.3 61.9L433.8 58.5M433.8 58.5L439.2 58.2M436.8 60.1L436.3 56.6M436.3 56.6L441.6 56.4M439.2 58.2L438.7 54.8M438.7 54.8L444.1 54.6M441.6 56.4L441.1 53.0M441.1 53.0L446.5 52.8M444.1 54.6L443.6 51.2M431.9 63.7L437.2 63.5M434.8 65.3L434.3 61.9M434.3 61.9L439.7 61.7M437.2 63.5L436.8 60.1M436.8 60.1L442.1 59.9M439.7 61.7L439.2 58.2M439.2 58.2L444.5 58.0M442.1 59.9L441.6 56.4M441.6 56.4L447.0 56.2M444.5 58.0L444.1 54.6M444.1 54.6L449.4 54.4M447.0 56.2L446.5 52.8M434.8 65.3L440.2 65.1M437.7 66.9L437.2 63.5M437.2 63.5L442.6 63.3M440.2 65.1L439.7 61.7M439.7 61.7L445.0 61.5M442.6 63.3L442.1 59.9M442.1 59.9L447.5 59.6M445.0 61.5L444.5 58.0M444.5 58.0L449.9 57.8M447.5 59.6L447.0 56.2M447.0 56.2L452.3 56.0M449.9 57.8L449.4 54.4M437.7 66.9L443.1 66.7M440.7 68.5L440.2 65.1M440.2 65.1L445.5 64.9M443.1 66.7L442.6 63.3M442.6 63.3L448.0 63.0M445.5 64.9L445.0 61.5M445.0 61.5L450.4 61.2M448.0 63.0L447.5 59.6M447.5 59.6L452.8 59.4M450.4 61.2L449.9 57.8M449.9 57.8L455.3 57.6M452.8 59.4L452.3 56.0M440.7 68.5L446.0 68.3M443.6 70.1L443.1 66.7M443.1 66.7L448.4 66.5M446.0 68.3L445.5 64.9M445.5 64.9L450.9 64.7M448.4 66.5L448.0 63.0M448.0 63.0L453.3 62.8M450.9 64.7L450.4 61.2M450.4 61.2L455.7 61.0M453.3 62.8L452.8 59.4M452.8 59.4L458.2 59.2M455.7 61.0L455.3 57.6M443.6 70.1L448.9 69.9M446.5 71.7L446.0 68.3M446.0 68.3L451.4 68.1M448.9 69.9L448.4 66.5M448.4 66.5L453.8 66.2M451.4 68.1L450.9 64.7M450.9 64.7L456.2 64.4M453.8 66.2L453.3 62.8M453.3 62.8L458.7 62.6M456.2 64.4L455.7 61.0M455.7 61.0L461.1 60.8M458.7 62.6L458.2 59.2M446.5 71.7L451.8 71.5M449.4 73.3L448.9 69.9M448.9 69.9L454.3 69.7M451.8 71.5L451.4 68.1M451.4 68.1L456.7 67.9M454.3 69.7L453.8 66.2M453.8 66.2L459.1 66.0M456.7 67.9L456.2 64.4M456.2 64.4L461.6 64.2M459.1 66.0L458.7 62.6M458.7 62.6L464.0 62.4M461.6 64.2L461.1 60.8M449.4 73.3L454.8 73.1M452.3 74.9L451.8 71.5M451.8 71.5L457.2 71.3M454.8 73.1L454.3 69.7M454.3 69.7L459.6 69.5M457.2 71.3L456.7 67.9M456.7 67.9L462.1 67.6M459.6 69.5L459.1 66.0M459.1 66.0L464.5 65.8M462.1 67.6L461.6 64.2M461.6 64.2L466.9 64.0M464.5 65.8L464.0 62.4M452.3 74.9L457.7 74.7M455.2 76.5L454.8 73.1M454.8 73.1L460.1 72.9M457.7 74.7L457.2 71.3M457.2 71.3L462.5 71.0M460.1 72.9L459.6 69.5M459.6 69.5L465.0 69.2M462.5 71.0L462.1 67.6M462.1 67.6L467.4 67.4M465.0 69.2L464.5 65.8M464.5 65.8L469.8 65.6M467.4 67.4L466.9 64.0M455.2 76.5L460.6 76.3M458.2 78.1L457.7 74.7M457.7 74.7L463.0 74.5M460.6 76.3L460.1 72.9M460.1 72.9L465.5 72.7M463.0 74.5L462.5 71.0M462.5 71.0L467.9 70.8M465.5 72.7L465.0 69.2M465.0 69.2L470.3 69.0M467.9 70.8L467.4 67.4M467.4 67.4L472.8 67.2M470.3 69.0L469.8 65.6M458.2 78.1L463.5 77.9M461.1 79.7L460.6 76.3M460.6 76.3L466.0 76.1M463.5 77.9L463.0 74.5M463.0 74.5L468.4 74.2M466.0 76.1L465.5 72.7M465.5 72.7L470.8 72.4M468.4 74.2L467.9 70.8M467.9 70.8L473.3 70.6M470.8 72.4L470.3 69.0M470.3 69.0L475.7 68.8M473.3 70.6L472.8 67.2M461.1 79.7L466.4 79.5M464.0 81.3L463.5 77.9M463.5 77.9L468.9 77.7M466.4 79.5L466.0 76.1M466.0 76.1L471.3 75.9M468.9 77.7L468.4 74.2M468.4 74.2L473.7 74.0M471.3 75.9L470.8 72.4M470.8 72.4L476.2 72.2M473.7 74.0L473.3 70.6M473.3 70.6L478.6 70.4M476.2 72.2L475.7 68.8M464.0 81.3L469.4 81.1M466.9 82.9L466.4 79.5M466.4 79.5L471.8 79.3M469.4 81.1L468.9 77.7M468.9 77.7L474.2 77.5M471.8 79.3L471.3 75.9M471.3 75.9L476.7 75.6M474.2 77.5L473.7 74.0M473.7 74.0L479.1 73.8M476.7 75.6L476.2 72.2M476.2 72.2L481.5 72.0M479.1 73.8L478.6 70.4M466.9 82.9L472.3 82.7M469.8 84.5L469.4 81.1M469.4 81.1L474.7 80.9M472.3 82.7L471.8 79.3M471.8 79.3L477.1 79.0M474.7 80.9L474.2 77.5M474.2 77.5L479.6 77.2M477.1 79.0L476.7 75.6M476.7 75.6L482.0 75.4M479.6 77.2L479.1 73.8M479.1 73.8L484.4 73.6M482.0 75.4L481.5 72.0M469.8 84.5L475.2 84.3M472.8 86.1L472.3 82.7M472.3 82.7L477.6 82.5M475.2 84.3L474.7 80.9M474.7 80.9L480.1 80.6M477.6 82.5L477.1 79.0M477.1 79.0L482.5 78.8M480.1 80.6L479.6 77.2M479.6 77.2L484.9 77.0M482.5 78.8L482.0 75.4M482.0 75.4L487.4 75.2M484.9 77.0L484.4 73.6M472.8 86.1L478.1 85.9M475.7 87.7L475.2 84.3M475.2 84.3L480.5 84.1M478.1 85.9L477.6 82.5M477.6 82.5L483.0 82.2M480.5 84.1L480.1 80.6M480.1 80.6L485.4 80.4M483.0 82.2L482.5 78.8M482.5 78.8L487.8 78.6M485.4 80.4L484.9 77.0M484.9 77.0L490.3 76.8M487.8 78.6L487.4 75.2M475.7 87.7L481.0 87.5M478.6 89.3L478.1 85.9M478.1 85.9L483.5 85.7M481.0 87.5L480.5 84.1M480.5 84.1L485.9 83.9M483.5 85.7L483.0 82.2M483.0 82.2L488.3 82.0M485.9 83.9L485.4 80.4M485.4 80.4L490.8 80.2M488.3 82.0L487.8 78.6M487.8 78.6L493.2 78.4M490.8 80.2L490.3 76.8" stroke="#5555a0" stroke-width="0.6" fill="none" opacity="0.95"/><path d="M417.3 55.7v1.6M419.7 53.9v1.6M422.2 52.1v1.6M424.6 50.2v1.6M427.0 48.4v1.6M429.5 46.6v1.6M431.9 44.8v1.6M420.2 57.3v1.6M422.7 55.5v1.6M425.1 53.7v1.6M427.5 51.9v1.6M430.0 50.0v1.6M432.4 48.2v1.6M434.8 46.4v1.6M423.1 58.9v1.6M425.6 57.1v1.6M428.0 55.3v1.6M430.4 53.5v1.6M432.9 51.6v1.6M435.3 49.8v1.6M437.7 48.0v1.6M426.1 60.5v1.6M428.5 58.7v1.6M430.9 56.9v1.6M433.4 55.0v1.6M435.8 53.2v1.6M438.2 51.4v1.6M440.7 49.6v1.6M429.0 62.1v1.6M431.4 60.3v1.6M433.8 58.5v1.6M436.3 56.6v1.6M438.7 54.8v1.6M441.1 53.0v1.6M443.6 51.2v1.6M431.9 63.7v1.6M434.3 61.9v1.6M436.8 60.1v1.6M439.2 58.2v1.6M441.6 56.4v1.6M444.1 54.6v1.6M446.5 52.8v1.6M434.8 65.3v1.6M437.2 63.5v1.6M439.7 61.7v1.6M442.1 59.9v1.6M444.5 58.0v1.6M447.0 56.2v1.6M449.4 54.4v1.6M437.7 66.9v1.6M440.2 65.1v1.6M442.6 63.3v1.6M445.0 61.5v1.6M447.5 59.6v1.6M449.9 57.8v1.6M452.3 56.0v1.6M440.7 68.5v1.6M443.1 66.7v1.6M445.5 64.9v1.6M448.0 63.0v1.6M450.4 61.2v1.6M452.8 59.4v1.6M455.3 57.6v1.6M443.6 70.1v1.6M446.0 68.3v1.6M448.4 66.5v1.6M450.9 64.7v1.6M453.3 62.8v1.6M455.7 61.0v1.6M458.2 59.2v1.6M446.5 71.7v1.6M448.9 69.9v1.6M451.4 68.1v1.6M453.8 66.2v1.6M456.2 64.4v1.6M458.7 62.6v1.6M461.1 60.8v1.6M449.4 73.3v1.6M451.8 71.5v1.6M454.3 69.7v1.6M456.7 67.9v1.6M459.1 66.0v1.6M461.6 64.2v1.6M464.0 62.4v1.6M452.3 74.9v1.6M454.8 73.1v1.6M457.2 71.3v1.6M459.6 69.5v1.6M462.1 67.6v1.6M464.5 65.8v1.6M466.9 64.0v1.6M455.2 76.5v1.6M457.7 74.7v1.6M460.1 72.9v1.6M462.5 71.0v1.6M465.0 69.2v1.6M467.4 67.4v1.6M469.8 65.6v1.6M458.2 78.1v1.6M460.6 76.3v1.6M463.0 74.5v1.6M465.5 72.7v1.6M467.9 70.8v1.6M470.3 69.0v1.6M472.8 67.2v1.6M461.1 79.7v1.6M463.5 77.9v1.6M466.0 76.1v1.6M468.4 74.2v1.6M470.8 72.4v1.6M473.3 70.6v1.6M475.7 68.8v1.6M464.0 81.3v1.6M466.4 79.5v1.6M468.9 77.7v1.6M471.3 75.9v1.6M473.7 74.0v1.6M476.2 72.2v1.6M478.6 70.4v1.6M466.9 82.9v1.6M469.4 81.1v1.6M471.8 79.3v1.6M474.2 77.5v1.6M476.7 75.6v1.6M479.1 73.8v1.6M481.5 72.0v1.6M469.8 84.5v1.6M472.3 82.7v1.6M474.7 80.9v1.6M477.1 79.0v1.6M479.6 77.2v1.6M482.0 75.4v1.6M484.4 73.6v1.6M472.8 86.1v1.6M475.2 84.3v1.6M477.6 82.5v1.6M480.1 80.6v1.6M482.5 78.8v1.6M484.9 77.0v1.6M487.4 75.2v1.6M475.7 87.7v1.6M478.1 85.9v1.6M480.5 84.1v1.6M483.0 82.2v1.6M485.4 80.4v1.6M487.8 78.6v1.6M490.3 76.8v1.6M478.6 89.3v1.6M481.0 87.5v1.6M483.5 85.7v1.6M485.9 83.9v1.6M488.3 82.0v1.6M490.8 80.2v1.6M493.2 78.4v1.6" stroke="#7a7ab8" stroke-width="0.5" fill="none" opacity="0.8"/><circle cx="417.3" cy="55.7" r="0.55" fill="#3f3f80"/><circle cx="419.7" cy="53.9" r="0.55" fill="#3f3f80"/><circle cx="422.2" cy="52.1" r="0.55" fill="#3f3f80"/><circle cx="424.6" cy="50.2" r="0.55" fill="#3f3f80"/><circle cx="427.0" cy="48.4" r="0.55" fill="#3f3f80"/><circle cx="429.5" cy="46.6" r="0.55" fill="#3f3f80"/><circle cx="431.9" cy="44.8" r="0.55" fill="#3f3f80"/><circle cx="420.2" cy="57.3" r="0.55" fill="#3f3f80"/><circle cx="422.7" cy="55.5" r="0.55" fill="#3f3f80"/><circle cx="425.1" cy="53.7" r="0.55" fill="#3f3f80"/><circle cx="427.5" cy="51.9" r="0.55" fill="#3f3f80"/><circle cx="430.0" cy="50.0" r="0.55" fill="#3f3f80"/><circle cx="432.4" cy="48.2" r="0.55" fill="#3f3f80"/><circle cx="434.8" cy="46.4" r="0.55" fill="#3f3f80"/><circle cx="423.1" cy="58.9" r="0.55" fill="#3f3f80"/><circle cx="425.6" cy="57.1" r="0.55" fill="#3f3f80"/><circle cx="428.0" cy="55.3" r="0.55" fill="#3f3f80"/><circle cx="430.4" cy="53.5" r="0.55" fill="#3f3f80"/><circle cx="432.9" cy="51.6" r="0.55" fill="#3f3f80"/><circle cx="435.3" cy="49.8" r="0.55" fill="#3f3f80"/><circle cx="437.7" cy="48.0" r="0.55" fill="#3f3f80"/><circle cx="426.1" cy="60.5" r="0.55" fill="#3f3f80"/><circle cx="428.5" cy="58.7" r="0.55" fill="#3f3f80"/><circle cx="430.9" cy="56.9" r="0.55" fill="#3f3f80"/><circle cx="433.4" cy="55.0" r="0.55" fill="#3f3f80"/><circle cx="435.8" cy="53.2" r="0.55" fill="#3f3f80"/><circle cx="438.2" cy="51.4" r="0.55" fill="#3f3f80"/><circle cx="440.7" cy="49.6" r="0.55" fill="#3f3f80"/><circle cx="429.0" cy="62.1" r="0.55" fill="#3f3f80"/><circle cx="431.4" cy="60.3" r="0.55" fill="#3f3f80"/><circle cx="433.8" cy="58.5" r="0.55" fill="#3f3f80"/><circle cx="436.3" cy="56.6" r="0.55" fill="#3f3f80"/><circle cx="438.7" cy="54.8" r="0.55" fill="#3f3f80"/><circle cx="441.1" cy="53.0" r="0.55" fill="#3f3f80"/><circle cx="443.6" cy="51.2" r="0.55" fill="#3f3f80"/><circle cx="431.9" cy="63.7" r="0.55" fill="#3f3f80"/><circle cx="434.3" cy="61.9" r="0.55" fill="#3f3f80"/><circle cx="436.8" cy="60.1" r="0.55" fill="#3f3f80"/><circle cx="439.2" cy="58.2" r="0.55" fill="#3f3f80"/><circle cx="441.6" cy="56.4" r="0.55" fill="#3f3f80"/><circle cx="444.1" cy="54.6" r="0.55" fill="#3f3f80"/><circle cx="446.5" cy="52.8" r="0.55" fill="#3f3f80"/><circle cx="434.8" cy="65.3" r="0.55" fill="#3f3f80"/><circle cx="437.2" cy="63.5" r="0.55" fill="#3f3f80"/><circle cx="439.7" cy="61.7" r="0.55" fill="#3f3f80"/><circle cx="442.1" cy="59.9" r="0.55" fill="#3f3f80"/><circle cx="444.5" cy="58.0" r="0.55" fill="#3f3f80"/><circle cx="447.0" cy="56.2" r="0.55" fill="#3f3f80"/><circle cx="449.4" cy="54.4" r="0.55" fill="#3f3f80"/><circle cx="437.7" cy="66.9" r="0.55" fill="#3f3f80"/><circle cx="440.2" cy="65.1" r="0.55" fill="#3f3f80"/><circle cx="442.6" cy="63.3" r="0.55" fill="#3f3f80"/><circle cx="445.0" cy="61.5" r="0.55" fill="#3f3f80"/><circle cx="447.5" cy="59.6" r="0.55" fill="#3f3f80"/><circle cx="449.9" cy="57.8" r="0.55" fill="#3f3f80"/><circle cx="452.3" cy="56.0" r="0.55" fill="#3f3f80"/><circle cx="440.7" cy="68.5" r="0.55" fill="#3f3f80"/><circle cx="443.1" cy="66.7" r="0.55" fill="#3f3f80"/><circle cx="445.5" cy="64.9" r="0.55" fill="#3f3f80"/><circle cx="448.0" cy="63.0" r="0.55" fill="#3f3f80"/><circle cx="450.4" cy="61.2" r="0.55" fill="#c8405a"/><circle cx="452.8" cy="59.4" r="0.55" fill="#3f3f80"/><circle cx="455.3" cy="57.6" r="0.55" fill="#3f3f80"/><circle cx="443.6" cy="70.1" r="0.55" fill="#3f3f80"/><circle cx="446.0" cy="68.3" r="0.55" fill="#3f3f80"/><circle cx="448.4" cy="66.5" r="0.55" fill="#3f3f80"/><circle cx="450.9" cy="64.7" r="0.55" fill="#c8405a"/><circle cx="453.3" cy="62.8" r="0.55" fill="#3f3f80"/><circle cx="455.7" cy="61.0" r="0.55" fill="#c8405a"/><circle cx="458.2" cy="59.2" r="0.55" fill="#3f3f80"/><circle cx="446.5" cy="71.7" r="0.55" fill="#3f3f80"/><circle cx="448.9" cy="69.9" r="0.55" fill="#3f3f80"/><circle cx="451.4" cy="68.1" r="0.55" fill="#c8405a"/><circle cx="453.8" cy="66.2" r="0.55" fill="#3f3f80"/><circle cx="456.2" cy="64.4" r="0.55" fill="#c8405a"/><circle cx="458.7" cy="62.6" r="0.55" fill="#3f3f80"/><circle cx="461.1" cy="60.8" r="0.55" fill="#c8405a"/><circle cx="449.4" cy="73.3" r="0.55" fill="#3f3f80"/><circle cx="451.8" cy="71.5" r="0.55" fill="#c8405a"/><circle cx="454.3" cy="69.7" r="0.55" fill="#3f3f80"/><circle cx="456.7" cy="67.9" r="0.55" fill="#c8405a"/><circle cx="459.1" cy="66.0" r="0.55" fill="#3f3f80"/><circle cx="461.6" cy="64.2" r="0.55" fill="#c8405a"/><circle cx="464.0" cy="62.4" r="0.55" fill="#3f3f80"/><circle cx="452.3" cy="74.9" r="0.55" fill="#c8405a"/><circle cx="454.8" cy="73.1" r="0.55" fill="#3f3f80"/><circle cx="457.2" cy="71.3" r="0.55" fill="#c8405a"/><circle cx="459.6" cy="69.5" r="0.55" fill="#3f3f80"/><circle cx="462.1" cy="67.6" r="0.55" fill="#c8405a"/><circle cx="464.5" cy="65.8" r="0.55" fill="#3f3f80"/><circle cx="466.9" cy="64.0" r="0.55" fill="#c8405a"/><circle cx="455.2" cy="76.5" r="0.55" fill="#3f3f80"/><circle cx="457.7" cy="74.7" r="0.55" fill="#c8405a"/><circle cx="460.1" cy="72.9" r="0.55" fill="#3f3f80"/><circle cx="462.5" cy="71.0" r="0.55" fill="#c8405a"/><circle cx="465.0" cy="69.2" r="0.55" fill="#3f3f80"/><circle cx="467.4" cy="67.4" r="0.55" fill="#c8405a"/><circle cx="469.8" cy="65.6" r="0.55" fill="#3f3f80"/><circle cx="458.2" cy="78.1" r="0.55" fill="#c8405a"/><circle cx="460.6" cy="76.3" r="0.55" fill="#3f3f80"/><circle cx="463.0" cy="74.5" r="0.55" fill="#c8405a"/><circle cx="465.5" cy="72.7" r="0.55" fill="#3f3f80"/><circle cx="467.9" cy="70.8" r="0.55" fill="#c8405a"/><circle cx="470.3" cy="69.0" r="0.55" fill="#3f3f80"/><circle cx="472.8" cy="67.2" r="0.55" fill="#c8405a"/><circle cx="461.1" cy="79.7" r="0.55" fill="#3f3f80"/><circle cx="463.5" cy="77.9" r="0.55" fill="#c8405a"/><circle cx="466.0" cy="76.1" r="0.55" fill="#3f3f80"/><circle cx="468.4" cy="74.2" r="0.55" fill="#c8405a"/><circle cx="470.8" cy="72.4" r="0.55" fill="#3f3f80"/><circle cx="473.3" cy="70.6" r="0.55" fill="#c8405a"/><circle cx="475.7" cy="68.8" r="0.55" fill="#3f3f80"/><circle cx="464.0" cy="81.3" r="0.55" fill="#3f3f80"/><circle cx="466.4" cy="79.5" r="0.55" fill="#3f3f80"/><circle cx="468.9" cy="77.7" r="0.55" fill="#c8405a"/><circle cx="471.3" cy="75.9" r="0.55" fill="#3f3f80"/><circle cx="473.7" cy="74.0" r="0.55" fill="#c8405a"/><circle cx="476.2" cy="72.2" r="0.55" fill="#3f3f80"/><circle cx="478.6" cy="70.4" r="0.55" fill="#3f3f80"/><circle cx="466.9" cy="82.9" r="0.55" fill="#3f3f80"/><circle cx="469.4" cy="81.1" r="0.55" fill="#3f3f80"/><circle cx="471.8" cy="79.3" r="0.55" fill="#3f3f80"/><circle cx="474.2" cy="77.5" r="0.55" fill="#c8405a"/><circle cx="476.7" cy="75.6" r="0.55" fill="#3f3f80"/><circle cx="479.1" cy="73.8" r="0.55" fill="#3f3f80"/><circle cx="481.5" cy="72.0" r="0.55" fill="#3f3f80"/><circle cx="469.8" cy="84.5" r="0.55" fill="#3f3f80"/><circle cx="472.3" cy="82.7" r="0.55" fill="#3f3f80"/><circle cx="474.7" cy="80.9" r="0.55" fill="#3f3f80"/><circle cx="477.1" cy="79.0" r="0.55" fill="#3f3f80"/><circle cx="479.6" cy="77.2" r="0.55" fill="#3f3f80"/><circle cx="482.0" cy="75.4" r="0.55" fill="#3f3f80"/><circle cx="484.4" cy="73.6" r="0.55" fill="#3f3f80"/><circle cx="472.8" cy="86.1" r="0.55" fill="#3f3f80"/><circle cx="475.2" cy="84.3" r="0.55" fill="#3f3f80"/><circle cx="477.6" cy="82.5" r="0.55" fill="#3f3f80"/><circle cx="480.1" cy="80.6" r="0.55" fill="#3f3f80"/><circle cx="482.5" cy="78.8" r="0.55" fill="#3f3f80"/><circle cx="484.9" cy="77.0" r="0.55" fill="#3f3f80"/><circle cx="487.4" cy="75.2" r="0.55" fill="#3f3f80"/><circle cx="475.7" cy="87.7" r="0.55" fill="#3f3f80"/><circle cx="478.1" cy="85.9" r="0.55" fill="#3f3f80"/><circle cx="480.5" cy="84.1" r="0.55" fill="#3f3f80"/><circle cx="483.0" cy="82.2" r="0.55" fill="#3f3f80"/><circle cx="485.4" cy="80.4" r="0.55" fill="#3f3f80"/><circle cx="487.8" cy="78.6" r="0.55" fill="#3f3f80"/><circle cx="490.3" cy="76.8" r="0.55" fill="#3f3f80"/><circle cx="478.6" cy="89.3" r="0.55" fill="#3f3f80"/><circle cx="481.0" cy="87.5" r="0.55" fill="#3f3f80"/><circle cx="483.5" cy="85.7" r="0.55" fill="#3f3f80"/><circle cx="485.9" cy="83.9" r="0.55" fill="#3f3f80"/><circle cx="488.3" cy="82.0" r="0.55" fill="#3f3f80"/><circle cx="490.8" cy="80.2" r="0.55" fill="#3f3f80"/><circle cx="493.2" cy="78.4" r="0.55" fill="#3f3f80"/><g stroke="#000" stroke-width="1.4" fill="none" stroke-linejoin="round" stroke-linecap="butt"><path d="M489.5 82.6 L499.2 88.6"/><path d="M489.5 82.8 L470.9 102.2 L494 117.2"/><circle cx="505.7" cy="93" r="7.8" fill="#fff"/><path d="M503.2 88.6 C506.6 89.2 506.9 91.6 505.5 93.1 C504.1 94.6 504.7 97 508.1 97.5" stroke-width="1"/><path d="M511.9 97.8 L523.8 106.6"/><path d="M498.6 111 L489.4 125.6" stroke-width="1.5"/><path d="M500.6 117 L496 124.2" stroke-width="1.5"/><path d="M499 120.4 L515.6 132.6"/><path d="M459.6 140.3 L468.6 145.3"/><circle cx="475" cy="149.7" r="8.2" fill="#fff"/><path d="M482.2 153.6 L491.5 159.4"/><path d="M495.2 153.4 L487 166.2" stroke-width="1.5"/><path d="M489.3 93 L493.9 96 M493.1 92.2 L490.1 96.8" stroke-width="1.5"/><path d="M510.2 104 L507.4 108.6" stroke-width="1.6"/><path d="M481.3 123 L485.9 126 M485.1 122.2 L482.1 126.8" stroke-width="1.5"/><path d="M496.2 128.4 L493.3 133.2" stroke-width="1.6"/></g><circle cx="372.9" cy="67.5" r="7.8" fill="#fff" stroke="#3434cc" stroke-width="1.1"/><circle cx="382.7" cy="132.8" r="9.6" fill="#fff" stroke="#3434cc" stroke-width="1.1"/><path d="M378.2 136.6 L385 131.2" stroke="#3434cc" stroke-width="1.1"/><path d="M387.6 129.1 L382.6 130.4 L385.2 133.6 Z" fill="#3434cc"/></g>
<text x="372.9" y="71.6" font-size="11.5" font-family="'Liberation Sans','DejaVu Sans',sans-serif" text-anchor="middle" fill="#3a3aa8" >V</text>
<text x="475" y="154" font-size="12" font-family="'Liberation Sans','DejaVu Sans',sans-serif" text-anchor="middle" fill="#111" >A</text>
<g clip-path="url(#clipD)"><rect x="547.0" y="14.8" width="138.5" height="135.2" fill="url(#stem)"/><rect x="547.0" y="14.8" width="138.5" height="135.2" fill="url(#dvar)"/><rect x="556.2" y="14.8" width="53.19999999999993" height="48.400000000000006" fill="url(#stem2)"/><rect x="556.6" y="32.2" width="18.2" height="17.1" fill="#0c0324" opacity="0.62"/><ellipse cx="559.30" cy="36.3" rx="1.5" ry="1.9" fill="#f39232" opacity="0.9"/><ellipse cx="559.30" cy="44.5" rx="1.5" ry="1.9" fill="#f39232" opacity="0.9"/><ellipse cx="565.05" cy="36.3" rx="1.5" ry="1.9" fill="#f39232" opacity="0.9"/><ellipse cx="565.05" cy="44.5" rx="1.5" ry="1.9" fill="#f39232" opacity="0.9"/><ellipse cx="570.80" cy="36.3" rx="1.5" ry="1.9" fill="#f39232" opacity="0.9"/><ellipse cx="570.80" cy="44.5" rx="1.5" ry="1.9" fill="#f39232" opacity="0.9"/><rect x="556.6" y="32.2" width="18.2" height="17.1" fill="none" stroke="#f0e810" stroke-width="0.9" stroke-dasharray="3 0.9"/></g>
<circle cx="568" cy="138.6" r="3.7" fill="none" stroke="#fff" stroke-width="1.15"/><path d="M565.4 136 L570.6 141.2 M570.6 136 L565.4 141.2" stroke="#fff" stroke-width="1.1"/>
<text x="577.2" y="141.2" font-size="9" font-family="'Liberation Sans','DejaVu Sans',sans-serif" text-anchor="start" fill="#fff" font-weight="bold" >[110]</text>
<text x="640" y="134.6" font-size="10.8" font-family="'Liberation Sans','DejaVu Sans',sans-serif" text-anchor="start" fill="#fff" font-weight="bold" >2 nm</text>
<rect x="638.8" y="141" width="32.6" height="3" fill="#fff"/>
<path d="M76.00 497.8 v-5.5 M196.30 497.8 v-5.5 M316.60 497.8 v-5.5 M136.15 497.8 v-3.4 M256.45 497.8 v-3.4 M376.30 497.8 v-3.4 M76.3 497.50 h5.5 M76.3 406.05 h5.5 M76.3 314.60 h5.5 M76.3 223.15 h5.5 M76.3 451.77 h3.4 M76.3 360.33 h3.4 M76.3 268.88 h3.4" stroke="#000" stroke-width="1.4" fill="none"/>
<text x="70.6" y="501.1" font-size="17.5" font-family="'DejaVu Sans','Liberation Sans',sans-serif" text-anchor="end" fill="#000" >0.00</text>
<text x="70.6" y="412.65000000000003" font-size="17.5" font-family="'DejaVu Sans','Liberation Sans',sans-serif" text-anchor="end" fill="#000" >0.10</text>
<text x="70.6" y="321.20000000000005" font-size="17.5" font-family="'DejaVu Sans','Liberation Sans',sans-serif" text-anchor="end" fill="#000" >0.20</text>
<text x="70.6" y="229.75000000000003" font-size="17.5" font-family="'DejaVu Sans','Liberation Sans',sans-serif" text-anchor="end" fill="#000" >0.30</text>
<text x="76.0" y="516.3" font-size="17.5" font-family="'DejaVu Sans','Liberation Sans',sans-serif" text-anchor="middle" fill="#000" >0.00</text>
<text x="196.3" y="516.3" font-size="17.5" font-family="'DejaVu Sans','Liberation Sans',sans-serif" text-anchor="middle" fill="#000" >0.50</text>
<text x="316.6" y="516.3" font-size="17.5" font-family="'DejaVu Sans','Liberation Sans',sans-serif" text-anchor="middle" fill="#000" >1.00</text>
<text x="227" y="538.8" font-size="17.5" font-family="'DejaVu Sans','Liberation Sans',sans-serif" text-anchor="middle"><tspan font-style="italic">T</tspan>/<tspan font-style="italic">T</tspan><tspan font-size="12.3" dy="3">c</tspan></text>
<text transform="translate(22.5,361) rotate(-90)" font-size="17.5" font-family="'DejaVu Sans','Liberation Sans',sans-serif" text-anchor="middle">Δ (meV)</text>
<circle cx="119.7" cy="234" r="5.7" fill="#c2527a" stroke="#000" stroke-width="1.5"/>
<circle cx="131.7" cy="232.5" r="5.7" fill="#c2527a" stroke="#000" stroke-width="1.5"/>
<circle cx="144.1" cy="231.6" r="5.7" fill="#c2527a" stroke="#000" stroke-width="1.5"/>
<circle cx="156.4" cy="231.3" r="5.7" fill="#c2527a" stroke="#000" stroke-width="1.5"/>
<circle cx="169.3" cy="233.7" r="5.7" fill="#c2527a" stroke="#000" stroke-width="1.5"/>
<circle cx="182.3" cy="237.3" r="5.7" fill="#c2527a" stroke="#000" stroke-width="1.5"/>
<circle cx="195.5" cy="243.3" r="5.7" fill="#c2527a" stroke="#000" stroke-width="1.5"/>
<circle cx="207.8" cy="248.1" r="5.7" fill="#c2527a" stroke="#000" stroke-width="1.5"/>
<circle cx="221.6" cy="261.3" r="5.7" fill="#c2527a" stroke="#000" stroke-width="1.5"/>
<circle cx="235.1" cy="271.1" r="5.7" fill="#c2527a" stroke="#000" stroke-width="1.5"/>
<circle cx="248.2" cy="282.2" r="5.7" fill="#c2527a" stroke="#000" stroke-width="1.5"/>
<circle cx="262.7" cy="297.5" r="5.7" fill="#c2527a" stroke="#000" stroke-width="1.5"/>
<circle cx="276.1" cy="318" r="5.7" fill="#c2527a" stroke="#000" stroke-width="1.5"/>
<circle cx="292.5" cy="378.6" r="5.7" fill="#c2527a" stroke="#000" stroke-width="1.5"/>
<circle cx="305.6" cy="413.8" r="5.7" fill="#c2527a" stroke="#000" stroke-width="1.5"/>
<path d="M76.30 235.31 L80.81 235.31 L83.16 235.31 L85.50 235.31 L87.83 235.31 L90.15 235.31 L92.45 235.31 L94.75 235.31 L97.03 235.31 L99.30 235.31 L101.56 235.31 L103.80 235.31 L106.04 235.31 L108.26 235.31 L110.47 235.31 L112.67 235.31 L114.85 235.32 L117.03 235.32 L119.19 235.32 L121.34 235.33 L123.48 235.34 L125.61 235.36 L127.73 235.37 L129.83 235.40 L131.92 235.43 L134.01 235.47 L136.07 235.52 L138.13 235.58 L140.18 235.65 L142.21 235.74 L144.23 235.83 L146.24 235.94 L148.24 236.07 L150.23 236.21 L152.20 236.37 L154.17 236.55 L156.12 236.75 L158.06 236.96 L159.98 237.20 L161.90 237.45 L163.80 237.73 L165.70 238.02 L167.58 238.34 L169.44 238.68 L171.30 239.04 L173.15 239.43 L174.98 239.83 L176.80 240.26 L178.61 240.72 L180.41 241.19 L182.19 241.69 L183.97 242.21 L185.73 242.76 L187.48 243.33 L189.22 243.92 L190.95 244.53 L192.66 245.17 L194.37 245.83 L196.06 246.51 L197.74 247.22 L199.41 247.95 L201.06 248.70 L202.71 249.48 L204.34 250.28 L205.96 251.10 L207.57 251.94 L209.17 252.80 L210.75 253.69 L212.33 254.60 L213.89 255.53 L215.44 256.48 L216.98 257.45 L218.51 258.45 L220.02 259.46 L221.52 260.50 L223.02 261.55 L224.50 262.63 L225.96 263.72 L227.42 264.84 L228.86 265.98 L230.30 267.13 L231.72 268.31 L233.13 269.50 L234.52 270.72 L235.91 271.95 L237.28 273.20 L238.64 274.47 L239.99 275.76 L241.33 277.06 L242.66 278.39 L243.97 279.73 L245.27 281.09 L246.57 282.47 L247.84 283.86 L249.11 285.27 L250.37 286.70 L251.61 288.14 L252.84 289.60 L254.06 291.07 L255.27 292.57 L256.47 294.07 L257.65 295.60 L258.83 297.13 L259.99 298.69 L261.14 300.26 L262.27 301.84 L263.40 303.44 L264.51 305.05 L265.62 306.68 L266.71 308.32 L267.79 309.97 L268.85 311.64 L269.91 313.32 L270.95 315.02 L271.98 316.72 L273.00 318.44 L274.01 320.18 L275.01 321.92 L275.99 323.68 L276.96 325.45 L277.92 327.24 L278.87 329.03 L279.81 330.84 L280.74 332.66 L281.65 334.49 L282.55 336.33 L283.44 338.18 L284.32 340.04 L285.19 341.92 L286.04 343.80 L286.88 345.70 L287.72 347.60 L288.54 349.52 L289.34 351.44 L290.14 353.38 L290.92 355.32 L291.69 357.28 L292.46 359.24 L293.20 361.21 L293.94 363.19 L294.67 365.18 L295.38 367.18 L296.08 369.19 L296.77 371.20 L297.45 373.23 L298.11 375.26 L298.77 377.30 L299.41 379.35 L300.04 381.40 L300.66 383.46 L301.27 385.53 L301.86 387.61 L302.45 389.69 L303.02 391.78 L303.58 393.88 L304.13 395.98 L304.66 398.09 L305.19 400.21 L305.70 402.33 L306.20 404.46 L306.69 406.59 L307.17 408.73 L307.63 410.88 L308.09 413.03 L308.53 415.18 L308.96 417.34 L309.38 419.51 L309.79 421.68 L310.18 423.85 L310.56 426.03 L310.94 428.21 L311.29 430.40 L311.64 432.59 L311.98 434.78 L312.30 436.98 L312.62 439.18 L312.92 441.39 L313.20 443.59 L313.48 445.80 L313.75 448.02 L314.00 450.23 L314.24 452.45 L314.47 454.67 L314.69 456.89 L314.90 459.11 L315.09 461.34 L315.27 463.56 L315.44 465.78 L315.60 468.01 L315.75 470.23 L315.89 472.45 L316.01 474.67 L316.12 476.88 L316.22 479.09 L316.31 481.28 L316.39 483.46 L316.45 485.61 L316.51 487.72 L316.55 489.74 L316.58 491.60 L316.59 493.08 L316.60 497.50 L316.60 496.40 L376.90 496.40" stroke="#000" stroke-width="2.9" fill="none" stroke-dasharray="10.5 4.6" stroke-dashoffset="0" clip-path="url(#clipE)"/>
<rect x="76.3" y="223.2" width="300.59999999999997" height="274.6" fill="none" stroke="#000" stroke-width="1.5"/>
<rect x="286.6" y="231.3" width="75.69999999999999" height="65.89999999999998" fill="#fff" stroke="none"/>
<path d="M286.6 280.73 h3 M286.6 264.25 h4.5 M286.6 247.78 h3 M296.5 297.2 v-3 M305.9 297.2 v-3 M315.3 297.2 v-3 M324.7 297.2 v-3 M334.1 297.2 v-4.5 M343.5 297.2 v-3 M352.9 297.2 v-3" stroke="#000" stroke-width="1.2" fill="none"/>
<path d="M286.60 296.37 L287.29 296.25 L287.98 296.66 L288.68 296.26 L289.37 296.32 L290.06 296.54 L290.75 296.16 L291.45 296.21 L292.14 296.33 L292.83 296.25 L293.52 296.12 L294.22 296.27 L294.91 296.25 L295.60 296.39 L296.29 296.05 L296.98 296.19 L297.68 296.47 L298.37 296.58 L299.06 296.07 L299.75 296.40 L300.45 296.15 L301.14 296.17 L301.83 296.17 L302.52 296.24 L303.22 296.45 L303.91 296.41 L304.60 296.31 L305.29 295.75 L305.98 295.80 L306.68 295.78 L307.37 295.92 L308.06 295.71 L308.75 295.80 L309.45 295.78 L310.14 295.79 L310.83 295.84 L311.52 295.83 L312.22 296.00 L312.91 295.79 L313.60 296.03 L314.00 295.70 L315.30 238.50 L316.00 236.60 L316.80 236.02 L317.83 235.98 L318.87 236.13 L319.90 236.19 L320.94 236.17 L321.97 236.42 L323.00 236.38 L324.04 236.22 L325.07 236.02 L326.11 236.07 L327.14 236.45 L328.18 236.16 L329.21 235.77 L330.24 235.93 L331.28 235.96 L332.31 236.39 L333.35 236.07 L334.38 236.67 L335.41 236.26 L336.45 236.13 L337.48 235.99 L338.52 236.34 L339.55 236.04 L340.58 235.89 L341.62 236.24 L342.65 236.10 L343.69 236.40 L344.72 236.08 L345.75 235.39 L346.79 236.30 L347.82 235.63 L348.86 236.48 L349.89 236.56 L350.93 235.99 L351.96 235.81 L352.99 235.75 L354.03 236.32 L355.06 236.05 L356.10 235.95 L357.13 236.04 L358.16 236.62 L359.20 236.19 L360.23 236.29 L361.27 236.29 L362.30 236.35" stroke="#000" stroke-width="2.3" fill="none" stroke-linejoin="round"/>
<rect x="286.6" y="231.3" width="75.69999999999999" height="65.89999999999998" fill="none" stroke="#000" stroke-width="1.4"/>
<text x="282.5" y="238.5" font-size="17.5" font-family="'DejaVu Sans','Liberation Sans',sans-serif" text-anchor="end" fill="#000" >20</text>
<text x="282.5" y="308.5" font-size="17.5" font-family="'DejaVu Sans','Liberation Sans',sans-serif" text-anchor="end" fill="#000" >0</text>
<text x="334" y="316.5" font-size="17.5" font-family="'DejaVu Sans','Liberation Sans',sans-serif" text-anchor="middle" fill="#000" >5</text>
<text x="324.5" y="339" font-size="17.5" font-family="'DejaVu Sans','Liberation Sans',sans-serif" text-anchor="middle"><tspan font-style="italic">T</tspan> (K)</text>
<text transform="translate(277.5,264) rotate(-90)" font-size="17.5" font-family="'DejaVu Sans','Liberation Sans',sans-serif" text-anchor="middle"><tspan font-style="italic">R</tspan> (Ω)</text>
<g clip-path="url(#clipH)"><rect x="142.1" y="341.0" width="105.30000000000001" height="95.69999999999999" fill="#9ac6e0"/><rect x="142.1" y="341.0" width="105.30000000000001" height="95.69999999999999" fill="url(#hbg)"/><path d="M157 442 C157 405 166 353 197 353 C224 353 231.5 405 231.5 442" fill="none" stroke="url(#arcg)" stroke-width="11" filter="url(#bl4)"/><rect x="153.5" y="395" width="7.5" height="50" fill="#f6f2ee" opacity="0.7" filter="url(#bl2)"/><rect x="228" y="398" width="5.5" height="46" fill="#eef2f5" opacity="0.5" filter="url(#bl2)"/><rect x="157.2" y="414" width="2.2" height="28" fill="#fbdcc8" opacity="0.9" filter="url(#bl15)"/><ellipse cx="197" cy="360" rx="13" ry="7" fill="#eef2f5" opacity="0.7" filter="url(#bl3)"/><path d="M171.6 442 C172 415 175 388 184 370 L191 370 L190 442 Z" fill="url(#lobe)" filter="url(#bl2)"/><path d="M220.3 442 C220 415 217 390 209.5 370 L203 370 L204 442 Z" fill="url(#lobeR)" filter="url(#bl2)"/><path d="M184.2 442 C185.2 402 189.5 361.5 197.3 361.5 C205 361.5 210.3 402 211.4 442 Z" fill="#f6f4f2" filter="url(#bl15)"/><path d="M186.8 442 C187.6 405 191.5 367.5 197.3 367.5 C203 367.5 207.6 405 208.9 442 Z" fill="url(#dome)" filter="url(#bl15)"/></g>
<rect x="142.1" y="341.0" width="105.30000000000001" height="95.69999999999999" fill="none" stroke="#000" stroke-width="1.4"/>
<rect x="142.1" y="327.6" width="105.30000000000001" height="5.8" fill="url(#rdbu)" stroke="#000" stroke-width="1.2"/>
<text x="195" y="322.2" font-size="17.5" font-family="'DejaVu Sans','Liberation Sans',sans-serif" text-anchor="middle" font-style="italic">G<tspan font-style="normal">/</tspan>G<tspan font-size="12.3" dy="3" font-style="normal">0</tspan></text>
<path d="M159.20 436.7 v-4 M230.00 436.7 v-4 M142.1 409.30 h4 M142.1 369.00 h4" stroke="#000" stroke-width="1.2" fill="none"/>
<text x="159.7" y="455.5" font-size="17.5" font-family="'DejaVu Sans','Liberation Sans',sans-serif" text-anchor="middle" fill="#000" >-1.0</text>
<text x="230.2" y="455.5" font-size="17.5" font-family="'DejaVu Sans','Liberation Sans',sans-serif" text-anchor="middle" fill="#000" >1.0</text>
<text x="137" y="415.90000000000003" font-size="17.5" font-family="'DejaVu Sans','Liberation Sans',sans-serif" text-anchor="end" fill="#000" >1</text>
<text x="137" y="375.6" font-size="17.5" font-family="'DejaVu Sans','Liberation Sans',sans-serif" text-anchor="end" fill="#000" >2</text>
<text x="195" y="477.5" font-size="17.5" font-family="'DejaVu Sans','Liberation Sans',sans-serif" text-anchor="middle"><tspan font-style="italic">V</tspan><tspan font-size="12.3" dy="3">b</tspan><tspan dy="-3"> (mV)</tspan></text>
<text transform="translate(117.5,389) rotate(-90)" font-size="17.5" font-family="'DejaVu Sans','Liberation Sans',sans-serif" text-anchor="middle"><tspan font-style="italic">T</tspan> (K)</text>
<g clip-path="url(#clipF)"><path d="M443.4 261.0 H593.3" stroke="#111" stroke-width="1.25" stroke-dasharray="4.8 2.1" fill="none"/><path d="M443.4 304.9 H593.3" stroke="#111" stroke-width="1.25" stroke-dasharray="4.8 2.1" fill="none"/><path d="M443.4 348.3 H593.3" stroke="#111" stroke-width="1.25" stroke-dasharray="4.8 2.1" fill="none"/><path d="M443.4 391.8 H593.3" stroke="#111" stroke-width="1.25" stroke-dasharray="4.8 2.1" fill="none"/><path d="M443.4 435.3 H593.3" stroke="#111" stroke-width="1.25" stroke-dasharray="4.8 2.1" fill="none"/><path d="M443.4 478.6 H593.3" stroke="#111" stroke-width="1.25" stroke-dasharray="4.8 2.1" fill="none"/><path d="M443.4 232.4 L443.9 232.3 L444.4 232.2 L444.9 232.1 L445.4 232.1 L445.9 232.1 L446.4 232.2 L446.9 232.2 L447.4 232.2 L447.9 232.2 L448.4 232.2 L448.9 232.2 L449.4 232.2 L449.9 232.2 L450.3 232.1 L450.8 232.1 L451.3 232.0 L451.8 231.9 L452.3 231.7 L452.8 231.6 L453.3 231.4 L453.8 231.3 L454.3 231.3 L454.8 231.3 L455.3 231.4 L455.8 231.5 L456.3 231.5 L456.8 231.6 L457.3 231.7 L457.8 231.8 L458.3 231.8 L458.8 231.9 L459.3 231.9 L459.8 232.0 L460.3 232.1 L460.8 232.2 L461.3 232.3 L461.8 232.3 L462.3 232.4 L462.8 232.4 L463.3 232.4 L463.8 232.5 L464.2 232.5 L464.7 232.6 L465.2 232.6 L465.7 232.5 L466.2 232.4 L466.7 232.3 L467.2 232.2 L467.7 232.2 L468.2 232.1 L468.7 232.1 L469.2 232.1 L469.7 232.1 L470.2 232.0 L470.7 231.8 L471.2 231.7 L471.7 231.6 L472.2 231.5 L472.7 231.4 L473.2 231.4 L473.7 231.4 L474.2 231.4 L474.7 231.4 L475.2 231.4 L475.7 231.4 L476.2 231.3 L476.7 231.3 L477.2 231.3 L477.6 231.3 L478.1 231.3 L478.6 231.3 L479.1 231.4 L479.6 231.4 L480.1 231.4 L480.6 231.3 L481.1 231.1 L481.6 230.9 L482.1 230.8 L482.6 230.7 L483.1 230.7 L483.6 230.8 L484.1 230.8 L484.6 230.8 L485.1 230.8 L485.6 230.7 L486.1 230.6 L486.6 230.6 L487.1 230.5 L487.6 230.5 L488.1 230.5 L488.6 230.4 L489.1 230.4 L489.6 230.3 L490.1 230.3 L490.6 230.2 L491.1 230.2 L491.5 230.1 L492.0 230.1 L492.5 230.0 L493.0 229.9 L493.5 229.8 L494.0 229.8 L494.5 229.8 L495.0 229.9 L495.5 230.1 L496.0 230.2 L496.5 230.4 L497.0 230.5 L497.5 230.5 L498.0 230.5 L498.5 230.5 L499.0 230.6 L499.5 230.8 L500.0 231.1 L500.5 231.3 L501.0 231.6 L501.5 231.8 L502.0 232.0 L502.5 232.1 L503.0 232.4 L503.5 232.6 L504.0 232.9 L504.5 233.2 L504.9 233.5 L505.4 233.9 L505.9 234.2 L506.4 234.5 L506.9 234.8 L507.4 235.1 L507.9 235.4 L508.4 235.6 L508.9 235.9 L509.4 236.2 L509.9 236.5 L510.4 236.7 L510.9 237.0 L511.4 237.1 L511.9 237.3 L512.4 237.5 L512.9 237.6 L513.4 237.8 L513.9 238.0 L514.4 238.1 L514.9 238.2 L515.4 238.4 L515.9 238.5 L516.4 238.7 L516.9 238.8 L517.4 238.8 L517.9 238.8 L518.3 238.7 L518.8 238.7 L519.3 238.6 L519.8 238.5 L520.3 238.4 L520.8 238.2 L521.3 238.0 L521.8 237.8 L522.3 237.6 L522.8 237.4 L523.3 237.2 L523.8 237.1 L524.3 237.0 L524.8 236.9 L525.3 236.7 L525.8 236.5 L526.3 236.2 L526.8 235.8 L527.3 235.4 L527.8 235.0 L528.3 234.6 L528.8 234.3 L529.3 234.0 L529.8 233.7 L530.3 233.5 L530.8 233.2 L531.3 232.9 L531.8 232.7 L532.2 232.5 L532.7 232.3 L533.2 232.1 L533.7 231.9 L534.2 231.6 L534.7 231.4 L535.2 231.2 L535.7 231.1 L536.2 230.9 L536.7 230.8 L537.2 230.6 L537.7 230.4 L538.2 230.2 L538.7 230.1 L539.2 230.0 L539.7 230.0 L540.2 230.1 L540.7 230.2 L541.2 230.2 L541.7 230.3 L542.2 230.3 L542.7 230.3 L543.2 230.3 L543.7 230.2 L544.2 230.1 L544.7 230.0 L545.2 230.0 L545.6 229.9 L546.1 230.0 L546.6 230.1 L547.1 230.3 L547.6 230.5 L548.1 230.7 L548.6 230.8 L549.1 230.8 L549.6 230.7 L550.1 230.7 L550.6 230.7 L551.1 230.7 L551.6 230.7 L552.1 230.7 L552.6 230.7 L553.1 230.8 L553.6 230.9 L554.1 231.0 L554.6 231.1 L555.1 231.1 L555.6 231.1 L556.1 231.2 L556.6 231.2 L557.1 231.2 L557.6 231.2 L558.1 231.3 L558.6 231.2 L559.1 231.2 L559.5 231.2 L560.0 231.3 L560.5 231.3 L561.0 231.5 L561.5 231.6 L562.0 231.7 L562.5 231.7 L563.0 231.7 L563.5 231.6 L564.0 231.4 L564.5 231.2 L565.0 231.1 L565.5 230.9 L566.0 230.7 L566.5 230.5 L567.0 230.3 L567.5 230.1 L568.0 229.9 L568.5 229.8 L569.0 229.8 L569.5 229.9 L570.0 230.0 L570.5 230.3 L571.0 230.6 L571.5 231.0 L572.0 231.3 L572.5 231.7 L572.9 231.9 L573.4 232.0 L573.9 232.1 L574.4 232.1 L574.9 232.1 L575.4 232.2 L575.9 232.3 L576.4 232.3 L576.9 232.3 L577.4 232.2 L577.9 232.2 L578.4 232.1 L578.9 232.0 L579.4 232.0 L579.9 231.9 L580.4 231.9 L580.9 231.8 L581.4 231.8 L581.9 231.8 L582.4 231.8 L582.9 231.9 L583.4 231.9 L583.9 231.9 L584.4 231.9 L584.9 231.7 L585.4 231.6 L585.9 231.5 L586.4 231.4 L586.8 231.4 L587.3 231.5 L587.8 231.6 L588.3 231.7 L588.8 231.8 L589.3 231.8 L589.8 231.8 L590.3 231.8 L590.8 231.9 L591.3 231.9 L591.8 232.0 L592.3 232.0 L592.8 232.1 L593.3 232.1" stroke="#000" stroke-width="6" fill="none" stroke-linejoin="round" stroke-linecap="round"/><path d="M443.4 232.4 L443.9 232.4 L444.4 232.4 L444.9 232.4 L445.4 232.4 L445.9 232.4 L446.4 232.4 L446.9 232.4 L447.4 232.4 L447.9 232.3 L448.4 232.3 L448.9 232.3 L449.4 232.3 L449.9 232.3 L450.3 232.3 L450.8 232.3 L451.3 232.3 L451.8 232.3 L452.3 232.3 L452.8 232.2 L453.3 232.2 L453.8 232.2 L454.3 232.2 L454.8 232.2 L455.3 232.2 L455.8 232.2 L456.3 232.1 L456.8 232.1 L457.3 232.1 L457.8 232.1 L458.3 232.1 L458.8 232.1 L459.3 232.0 L459.8 232.0 L460.3 232.0 L460.8 232.0 L461.3 232.0 L461.8 232.0 L462.3 232.0 L462.8 231.9 L463.3 231.9 L463.8 231.9 L464.2 231.9 L464.7 231.9 L465.2 231.8 L465.7 231.8 L466.2 231.8 L466.7 231.8 L467.2 231.8 L467.7 231.7 L468.2 231.7 L468.7 231.7 L469.2 231.7 L469.7 231.6 L470.2 231.6 L470.7 231.6 L471.2 231.6 L471.7 231.5 L472.2 231.5 L472.7 231.5 L473.2 231.4 L473.7 231.4 L474.2 231.4 L474.7 231.4 L475.2 231.3 L475.7 231.3 L476.2 231.3 L476.7 231.2 L477.2 231.2 L477.6 231.2 L478.1 231.2 L478.6 231.1 L479.1 231.1 L479.6 231.1 L480.1 231.1 L480.6 231.0 L481.1 231.0 L481.6 231.0 L482.1 231.0 L482.6 231.0 L483.1 230.9 L483.6 230.9 L484.1 230.9 L484.6 230.9 L485.1 230.9 L485.6 230.8 L486.1 230.8 L486.6 230.8 L487.1 230.8 L487.6 230.7 L488.1 230.7 L488.6 230.7 L489.1 230.7 L489.6 230.7 L490.1 230.6 L490.6 230.6 L491.1 230.6 L491.5 230.6 L492.0 230.6 L492.5 230.6 L493.0 230.6 L493.5 230.5 L494.0 230.5 L494.5 230.5 L495.0 230.5 L495.5 230.5 L496.0 230.5 L496.5 230.6 L497.0 230.6 L497.5 230.7 L498.0 230.8 L498.5 230.9 L499.0 231.0 L499.5 231.1 L500.0 231.3 L500.5 231.4 L501.0 231.6 L501.5 231.8 L502.0 232.0 L502.5 232.2 L503.0 232.4 L503.5 232.7 L504.0 232.9 L504.5 233.2 L504.9 233.5 L505.4 233.8 L505.9 234.1 L506.4 234.4 L506.9 234.7 L507.4 235.0 L507.9 235.3 L508.4 235.5 L508.9 235.8 L509.4 236.1 L509.9 236.3 L510.4 236.6 L510.9 236.9 L511.4 237.1 L511.9 237.3 L512.4 237.5 L512.9 237.7 L513.4 237.9 L513.9 238.0 L514.4 238.2 L514.9 238.3 L515.4 238.5 L515.9 238.6 L516.4 238.7 L516.9 238.7 L517.4 238.8 L517.9 238.8 L518.3 238.8 L518.8 238.8 L519.3 238.7 L519.8 238.6 L520.3 238.5 L520.8 238.3 L521.3 238.2 L521.8 238.0 L522.3 237.8 L522.8 237.5 L523.3 237.3 L523.8 237.1 L524.3 236.8 L524.8 236.6 L525.3 236.3 L525.8 236.0 L526.3 235.7 L526.8 235.4 L527.3 235.1 L527.8 234.8 L528.3 234.5 L528.8 234.3 L529.3 234.0 L529.8 233.8 L530.3 233.5 L530.8 233.3 L531.3 233.0 L531.8 232.8 L532.2 232.6 L532.7 232.4 L533.2 232.2 L533.7 232.0 L534.2 231.8 L534.7 231.7 L535.2 231.6 L535.7 231.4 L536.2 231.3 L536.7 231.2 L537.2 231.1 L537.7 231.0 L538.2 231.0 L538.7 230.9 L539.2 230.8 L539.7 230.8 L540.2 230.8 L540.7 230.8 L541.2 230.8 L541.7 230.8 L542.2 230.8 L542.7 230.8 L543.2 230.8 L543.7 230.8 L544.2 230.8 L544.7 230.8 L545.2 230.8 L545.6 230.8 L546.1 230.8 L546.6 230.8 L547.1 230.9 L547.6 230.9 L548.1 230.9 L548.6 230.9 L549.1 230.9 L549.6 230.9 L550.1 231.0 L550.6 231.0 L551.1 231.0 L551.6 231.0 L552.1 231.0 L552.6 231.1 L553.1 231.1 L553.6 231.1 L554.1 231.1 L554.6 231.1 L555.1 231.1 L555.6 231.2 L556.1 231.2 L556.6 231.2 L557.1 231.2 L557.6 231.2 L558.1 231.3 L558.6 231.3 L559.1 231.3 L559.5 231.3 L560.0 231.4 L560.5 231.4 L561.0 231.4 L561.5 231.5 L562.0 231.5 L562.5 231.5 L563.0 231.5 L563.5 231.6 L564.0 231.6 L564.5 231.6 L565.0 231.7 L565.5 231.7 L566.0 231.7 L566.5 231.7 L567.0 231.8 L567.5 231.8 L568.0 231.8 L568.5 231.8 L569.0 231.9 L569.5 231.9 L570.0 231.9 L570.5 231.9 L571.0 231.9 L571.5 231.9 L572.0 231.9 L572.5 231.9 L572.9 232.0 L573.4 232.0 L573.9 232.0 L574.4 232.0 L574.9 232.0 L575.4 232.0 L575.9 232.0 L576.4 232.0 L576.9 232.0 L577.4 232.0 L577.9 232.0 L578.4 232.0 L578.9 232.0 L579.4 232.1 L579.9 232.1 L580.4 232.1 L580.9 232.1 L581.4 232.1 L581.9 232.1 L582.4 232.1 L582.9 232.1 L583.4 232.1 L583.9 232.1 L584.4 232.1 L584.9 232.1 L585.4 232.1 L585.9 232.1 L586.4 232.1 L586.8 232.1 L587.3 232.1 L587.8 232.1 L588.3 232.1 L588.8 232.1 L589.3 232.1 L589.8 232.1 L590.3 232.1 L590.8 232.1 L591.3 232.1 L591.8 232.1 L592.3 232.1 L592.8 232.1 L593.3 232.1" stroke="#1f8ad2" stroke-width="2.1" fill="none" stroke-linejoin="round"/><path d="M443.4 276.0 L443.9 276.0 L444.4 276.0 L444.9 276.0 L445.4 276.1 L445.9 276.1 L446.4 276.1 L446.9 276.0 L447.4 275.9 L447.9 275.8 L448.4 275.7 L448.9 275.6 L449.4 275.6 L449.9 275.7 L450.3 275.8 L450.8 275.8 L451.3 275.7 L451.8 275.5 L452.3 275.3 L452.8 275.1 L453.3 274.9 L453.8 274.8 L454.3 274.8 L454.8 274.8 L455.3 274.9 L455.8 274.9 L456.3 274.9 L456.8 275.0 L457.3 275.1 L457.8 275.2 L458.3 275.4 L458.8 275.6 L459.3 275.8 L459.8 275.9 L460.3 276.0 L460.8 276.0 L461.3 276.0 L461.8 276.0 L462.3 276.0 L462.8 276.1 L463.3 276.1 L463.8 276.1 L464.2 276.2 L464.7 276.2 L465.2 276.2 L465.7 276.2 L466.2 276.2 L466.7 276.1 L467.2 276.1 L467.7 275.9 L468.2 275.8 L468.7 275.6 L469.2 275.4 L469.7 275.3 L470.2 275.2 L470.7 275.2 L471.2 275.1 L471.7 275.1 L472.2 275.1 L472.7 275.0 L473.2 274.9 L473.7 274.8 L474.2 274.7 L474.7 274.6 L475.2 274.5 L475.7 274.4 L476.2 274.3 L476.7 274.2 L477.2 274.1 L477.6 274.1 L478.1 274.1 L478.6 274.2 L479.1 274.2 L479.6 274.2 L480.1 274.2 L480.6 274.1 L481.1 274.0 L481.6 273.9 L482.1 273.8 L482.6 273.6 L483.1 273.4 L483.6 273.3 L484.1 273.2 L484.6 273.2 L485.1 273.1 L485.6 273.1 L486.1 273.1 L486.6 273.0 L487.1 273.0 L487.6 272.9 L488.1 272.8 L488.6 272.7 L489.1 272.6 L489.6 272.5 L490.1 272.4 L490.6 272.3 L491.1 272.1 L491.5 272.0 L492.0 271.8 L492.5 271.7 L493.0 271.5 L493.5 271.5 L494.0 271.4 L494.5 271.4 L495.0 271.4 L495.5 271.5 L496.0 271.6 L496.5 271.7 L497.0 271.8 L497.5 272.0 L498.0 272.1 L498.5 272.3 L499.0 272.4 L499.5 272.7 L500.0 273.0 L500.5 273.4 L501.0 273.8 L501.5 274.3 L502.0 274.8 L502.5 275.3 L503.0 275.9 L503.5 276.4 L504.0 277.0 L504.5 277.4 L504.9 277.9 L505.4 278.3 L505.9 278.7 L506.4 279.1 L506.9 279.6 L507.4 280.2 L507.9 280.8 L508.4 281.5 L508.9 282.2 L509.4 282.8 L509.9 283.4 L510.4 283.9 L510.9 284.3 L511.4 284.8 L511.9 285.3 L512.4 285.8 L512.9 286.3 L513.4 286.7 L513.9 287.1 L514.4 287.4 L514.9 287.7 L515.4 287.9 L515.9 288.0 L516.4 288.1 L516.9 288.2 L517.4 288.3 L517.9 288.3 L518.3 288.4 L518.8 288.4 L519.3 288.3 L519.8 288.2 L520.3 288.0 L520.8 287.7 L521.3 287.4 L521.8 287.1 L522.3 286.8 L522.8 286.5 L523.3 286.1 L523.8 285.6 L524.3 285.2 L524.8 284.7 L525.3 284.1 L525.8 283.5 L526.3 282.9 L526.8 282.2 L527.3 281.5 L527.8 280.8 L528.3 280.2 L528.8 279.6 L529.3 278.9 L529.8 278.3 L530.3 277.7 L530.8 277.1 L531.3 276.6 L531.8 276.1 L532.2 275.7 L532.7 275.3 L533.2 274.9 L533.7 274.6 L534.2 274.2 L534.7 273.9 L535.2 273.6 L535.7 273.4 L536.2 273.2 L536.7 273.1 L537.2 272.9 L537.7 272.8 L538.2 272.6 L538.7 272.4 L539.2 272.3 L539.7 272.1 L540.2 272.0 L540.7 272.0 L541.2 272.0 L541.7 272.0 L542.2 272.0 L542.7 272.0 L543.2 272.0 L543.7 272.1 L544.2 272.1 L544.7 272.2 L545.2 272.2 L545.6 272.3 L546.1 272.3 L546.6 272.4 L547.1 272.6 L547.6 272.7 L548.1 272.9 L548.6 273.0 L549.1 273.2 L549.6 273.3 L550.1 273.4 L550.6 273.4 L551.1 273.5 L551.6 273.6 L552.1 273.8 L552.6 273.9 L553.1 274.0 L553.6 274.1 L554.1 274.1 L554.6 274.2 L555.1 274.2 L555.6 274.3 L556.1 274.3 L556.6 274.4 L557.1 274.4 L557.6 274.4 L558.1 274.4 L558.6 274.4 L559.1 274.5 L559.5 274.6 L560.0 274.7 L560.5 274.9 L561.0 275.1 L561.5 275.3 L562.0 275.4 L562.5 275.5 L563.0 275.5 L563.5 275.4 L564.0 275.3 L564.5 275.2 L565.0 275.0 L565.5 274.8 L566.0 274.6 L566.5 274.3 L567.0 274.0 L567.5 273.7 L568.0 273.5 L568.5 273.3 L569.0 273.3 L569.5 273.5 L570.0 273.6 L570.5 273.9 L571.0 274.2 L571.5 274.6 L572.0 274.9 L572.5 275.2 L572.9 275.5 L573.4 275.7 L573.9 275.8 L574.4 275.8 L574.9 275.9 L575.4 275.9 L575.9 275.9 L576.4 275.9 L576.9 275.8 L577.4 275.7 L577.9 275.7 L578.4 275.6 L578.9 275.7 L579.4 275.7 L579.9 275.8 L580.4 275.9 L580.9 276.0 L581.4 276.1 L581.9 276.2 L582.4 276.2 L582.9 276.2 L583.4 276.1 L583.9 276.0 L584.4 275.8 L584.9 275.6 L585.4 275.3 L585.9 275.2 L586.4 275.1 L586.8 275.2 L587.3 275.4 L587.8 275.7 L588.3 275.9 L588.8 276.1 L589.3 276.1 L589.8 276.2 L590.3 276.2 L590.8 276.2 L591.3 276.2 L591.8 276.2 L592.3 276.1 L592.8 276.1 L593.3 276.1" stroke="#000" stroke-width="6" fill="none" stroke-linejoin="round" stroke-linecap="round"/><path d="M443.4 276.1 L443.9 276.1 L444.4 276.1 L444.9 276.1 L445.4 276.1 L445.9 276.1 L446.4 276.1 L446.9 276.1 L447.4 276.1 L447.9 276.0 L448.4 276.0 L448.9 276.0 L449.4 276.0 L449.9 276.0 L450.3 276.0 L450.8 276.0 L451.3 276.0 L451.8 276.0 L452.3 276.0 L452.8 276.0 L453.3 275.9 L453.8 275.9 L454.3 275.9 L454.8 275.9 L455.3 275.9 L455.8 275.9 L456.3 275.9 L456.8 275.8 L457.3 275.8 L457.8 275.8 L458.3 275.8 L458.8 275.8 L459.3 275.8 L459.8 275.7 L460.3 275.7 L460.8 275.7 L461.3 275.7 L461.8 275.7 L462.3 275.6 L462.8 275.6 L463.3 275.6 L463.8 275.6 L464.2 275.6 L464.7 275.5 L465.2 275.5 L465.7 275.5 L466.2 275.4 L466.7 275.4 L467.2 275.4 L467.7 275.3 L468.2 275.3 L468.7 275.3 L469.2 275.2 L469.7 275.2 L470.2 275.1 L470.7 275.1 L471.2 275.0 L471.7 275.0 L472.2 274.9 L472.7 274.8 L473.2 274.8 L473.7 274.7 L474.2 274.7 L474.7 274.6 L475.2 274.6 L475.7 274.5 L476.2 274.4 L476.7 274.4 L477.2 274.3 L477.6 274.3 L478.1 274.2 L478.6 274.1 L479.1 274.1 L479.6 274.0 L480.1 274.0 L480.6 273.9 L481.1 273.8 L481.6 273.8 L482.1 273.7 L482.6 273.7 L483.1 273.6 L483.6 273.5 L484.1 273.5 L484.6 273.4 L485.1 273.3 L485.6 273.2 L486.1 273.1 L486.6 273.1 L487.1 273.0 L487.6 272.9 L488.1 272.8 L488.6 272.7 L489.1 272.7 L489.6 272.6 L490.1 272.5 L490.6 272.4 L491.1 272.4 L491.5 272.3 L492.0 272.3 L492.5 272.2 L493.0 272.2 L493.5 272.2 L494.0 272.1 L494.5 272.1 L495.0 272.2 L495.5 272.2 L496.0 272.3 L496.5 272.3 L497.0 272.5 L497.5 272.6 L498.0 272.7 L498.5 272.9 L499.0 273.1 L499.5 273.3 L500.0 273.6 L500.5 273.9 L501.0 274.2 L501.5 274.6 L502.0 275.0 L502.5 275.5 L503.0 276.0 L503.5 276.5 L504.0 277.0 L504.5 277.5 L504.9 278.0 L505.4 278.5 L505.9 279.1 L506.4 279.7 L506.9 280.3 L507.4 280.8 L507.9 281.4 L508.4 282.0 L508.9 282.5 L509.4 283.1 L509.9 283.6 L510.4 284.1 L510.9 284.5 L511.4 285.0 L511.9 285.4 L512.4 285.9 L512.9 286.3 L513.4 286.6 L513.9 287.0 L514.4 287.2 L514.9 287.5 L515.4 287.7 L515.9 287.9 L516.4 288.0 L516.9 288.2 L517.4 288.3 L517.9 288.3 L518.3 288.3 L518.8 288.3 L519.3 288.3 L519.8 288.1 L520.3 288.0 L520.8 287.8 L521.3 287.6 L521.8 287.4 L522.3 287.0 L522.8 286.7 L523.3 286.2 L523.8 285.7 L524.3 285.2 L524.8 284.6 L525.3 284.0 L525.8 283.4 L526.3 282.8 L526.8 282.2 L527.3 281.5 L527.8 280.9 L528.3 280.3 L528.8 279.6 L529.3 279.0 L529.8 278.4 L530.3 277.8 L530.8 277.2 L531.3 276.7 L531.8 276.2 L532.2 275.7 L532.7 275.3 L533.2 274.9 L533.7 274.5 L534.2 274.2 L534.7 273.9 L535.2 273.6 L535.7 273.4 L536.2 273.2 L536.7 273.1 L537.2 273.0 L537.7 272.9 L538.2 272.8 L538.7 272.7 L539.2 272.7 L539.7 272.6 L540.2 272.6 L540.7 272.6 L541.2 272.6 L541.7 272.6 L542.2 272.6 L542.7 272.7 L543.2 272.7 L543.7 272.7 L544.2 272.8 L544.7 272.8 L545.2 272.9 L545.6 272.9 L546.1 273.0 L546.6 273.0 L547.1 273.1 L547.6 273.2 L548.1 273.2 L548.6 273.3 L549.1 273.4 L549.6 273.5 L550.1 273.5 L550.6 273.6 L551.1 273.7 L551.6 273.8 L552.1 273.8 L552.6 273.9 L553.1 274.0 L553.6 274.0 L554.1 274.1 L554.6 274.2 L555.1 274.2 L555.6 274.3 L556.1 274.4 L556.6 274.4 L557.1 274.5 L557.6 274.5 L558.1 274.6 L558.6 274.6 L559.1 274.7 L559.5 274.7 L560.0 274.8 L560.5 274.8 L561.0 274.9 L561.5 274.9 L562.0 275.0 L562.5 275.0 L563.0 275.1 L563.5 275.1 L564.0 275.1 L564.5 275.2 L565.0 275.2 L565.5 275.3 L566.0 275.3 L566.5 275.4 L567.0 275.4 L567.5 275.4 L568.0 275.5 L568.5 275.5 L569.0 275.5 L569.5 275.5 L570.0 275.6 L570.5 275.6 L571.0 275.6 L571.5 275.6 L572.0 275.6 L572.5 275.7 L572.9 275.7 L573.4 275.7 L573.9 275.7 L574.4 275.7 L574.9 275.7 L575.4 275.8 L575.9 275.8 L576.4 275.8 L576.9 275.8 L577.4 275.8 L577.9 275.8 L578.4 275.8 L578.9 275.9 L579.4 275.9 L579.9 275.9 L580.4 275.9 L580.9 275.9 L581.4 275.9 L581.9 275.9 L582.4 275.9 L582.9 276.0 L583.4 276.0 L583.9 276.0 L584.4 276.0 L584.9 276.0 L585.4 276.0 L585.9 276.0 L586.4 276.0 L586.8 276.0 L587.3 276.0 L587.8 276.0 L588.3 276.0 L588.8 276.1 L589.3 276.1 L589.8 276.1 L590.3 276.1 L590.8 276.1 L591.3 276.1 L591.8 276.1 L592.3 276.1 L592.8 276.1 L593.3 276.1" stroke="#1a72d6" stroke-width="2.1" fill="none" stroke-linejoin="round"/><path d="M443.4 319.7 L443.9 319.7 L444.4 319.7 L444.9 319.7 L445.4 319.6 L445.9 319.6 L446.4 319.5 L446.9 319.5 L447.4 319.4 L447.9 319.5 L448.4 319.5 L448.9 319.5 L449.4 319.6 L449.9 319.6 L450.3 319.6 L450.8 319.5 L451.3 319.4 L451.8 319.2 L452.3 319.0 L452.8 318.8 L453.3 318.6 L453.8 318.4 L454.3 318.3 L454.8 318.3 L455.3 318.3 L455.8 318.4 L456.3 318.5 L456.8 318.6 L457.3 318.7 L457.8 318.7 L458.3 318.7 L458.8 318.7 L459.3 318.7 L459.8 318.8 L460.3 318.8 L460.8 318.9 L461.3 319.0 L461.8 319.1 L462.3 319.2 L462.8 319.3 L463.3 319.3 L463.8 319.4 L464.2 319.3 L464.7 319.2 L465.2 319.1 L465.7 319.0 L466.2 318.9 L466.7 318.8 L467.2 318.7 L467.7 318.6 L468.2 318.4 L468.7 318.3 L469.2 318.2 L469.7 318.2 L470.2 318.2 L470.7 318.2 L471.2 318.2 L471.7 318.1 L472.2 318.1 L472.7 317.9 L473.2 317.8 L473.7 317.7 L474.2 317.7 L474.7 317.7 L475.2 317.6 L475.7 317.6 L476.2 317.6 L476.7 317.5 L477.2 317.5 L477.6 317.5 L478.1 317.5 L478.6 317.4 L479.1 317.3 L479.6 317.2 L480.1 317.1 L480.6 317.0 L481.1 316.9 L481.6 316.7 L482.1 316.5 L482.6 316.3 L483.1 316.2 L483.6 316.0 L484.1 315.8 L484.6 315.6 L485.1 315.5 L485.6 315.4 L486.1 315.4 L486.6 315.3 L487.1 315.3 L487.6 315.2 L488.1 315.1 L488.6 315.0 L489.1 314.8 L489.6 314.6 L490.1 314.5 L490.6 314.3 L491.1 314.2 L491.5 314.1 L492.0 314.0 L492.5 313.8 L493.0 313.6 L493.5 313.5 L494.0 313.3 L494.5 313.3 L495.0 313.2 L495.5 313.2 L496.0 313.2 L496.5 313.2 L497.0 313.3 L497.5 313.3 L498.0 313.3 L498.5 313.4 L499.0 313.4 L499.5 313.6 L500.0 313.7 L500.5 314.0 L501.0 314.3 L501.5 314.7 L502.0 315.2 L502.5 315.7 L503.0 316.3 L503.5 316.9 L504.0 317.7 L504.5 318.5 L504.9 319.4 L505.4 320.4 L505.9 321.4 L506.4 322.3 L506.9 323.2 L507.4 324.0 L507.9 324.8 L508.4 325.6 L508.9 326.5 L509.4 327.4 L509.9 328.3 L510.4 329.1 L510.9 330.0 L511.4 330.7 L511.9 331.4 L512.4 332.0 L512.9 332.7 L513.4 333.3 L513.9 333.9 L514.4 334.4 L514.9 334.9 L515.4 335.4 L515.9 335.8 L516.4 336.1 L516.9 336.3 L517.4 336.5 L517.9 336.5 L518.3 336.5 L518.8 336.4 L519.3 336.3 L519.8 336.0 L520.3 335.7 L520.8 335.3 L521.3 334.8 L521.8 334.2 L522.3 333.6 L522.8 333.0 L523.3 332.4 L523.8 331.9 L524.3 331.4 L524.8 330.9 L525.3 330.3 L525.8 329.6 L526.3 328.9 L526.8 328.1 L527.3 327.3 L527.8 326.4 L528.3 325.5 L528.8 324.5 L529.3 323.5 L529.8 322.5 L530.3 321.5 L530.8 320.5 L531.3 319.6 L531.8 318.6 L532.2 317.7 L532.7 316.9 L533.2 316.3 L533.7 315.8 L534.2 315.5 L534.7 315.2 L535.2 314.9 L535.7 314.7 L536.2 314.5 L536.7 314.3 L537.2 314.1 L537.7 313.9 L538.2 313.8 L538.7 313.6 L539.2 313.5 L539.7 313.5 L540.2 313.5 L540.7 313.5 L541.2 313.6 L541.7 313.7 L542.2 313.9 L542.7 314.0 L543.2 314.2 L543.7 314.5 L544.2 314.8 L544.7 315.0 L545.2 315.2 L545.6 315.4 L546.1 315.5 L546.6 315.6 L547.1 315.8 L547.6 316.0 L548.1 316.2 L548.6 316.4 L549.1 316.7 L549.6 316.9 L550.1 317.1 L550.6 317.3 L551.1 317.4 L551.6 317.4 L552.1 317.4 L552.6 317.4 L553.1 317.4 L553.6 317.4 L554.1 317.3 L554.6 317.3 L555.1 317.3 L555.6 317.3 L556.1 317.4 L556.6 317.4 L557.1 317.5 L557.6 317.5 L558.1 317.5 L558.6 317.6 L559.1 317.6 L559.5 317.7 L560.0 317.8 L560.5 317.9 L561.0 317.9 L561.5 318.0 L562.0 318.0 L562.5 318.0 L563.0 317.9 L563.5 317.9 L564.0 317.9 L564.5 317.8 L565.0 317.8 L565.5 317.7 L566.0 317.6 L566.5 317.4 L567.0 317.2 L567.5 316.9 L568.0 316.7 L568.5 316.4 L569.0 316.3 L569.5 316.3 L570.0 316.5 L570.5 316.7 L571.0 317.0 L571.5 317.4 L572.0 317.7 L572.5 318.1 L572.9 318.3 L573.4 318.6 L573.9 318.7 L574.4 318.8 L574.9 318.8 L575.4 318.8 L575.9 318.7 L576.4 318.7 L576.9 318.8 L577.4 318.8 L577.9 318.9 L578.4 318.9 L578.9 318.9 L579.4 318.8 L579.9 318.8 L580.4 318.7 L580.9 318.8 L581.4 318.8 L581.9 318.9 L582.4 318.9 L582.9 319.0 L583.4 319.0 L583.9 318.8 L584.4 318.6 L584.9 318.3 L585.4 318.0 L585.9 317.8 L586.4 317.8 L586.8 317.8 L587.3 318.0 L587.8 318.3 L588.3 318.6 L588.8 318.8 L589.3 319.0 L589.8 319.1 L590.3 319.2 L590.8 319.2 L591.3 319.2 L591.8 319.2 L592.3 319.2 L592.8 319.3 L593.3 319.3" stroke="#000" stroke-width="6" fill="none" stroke-linejoin="round" stroke-linecap="round"/><path d="M443.4 319.6 L443.9 319.6 L444.4 319.6 L444.9 319.6 L445.4 319.6 L445.9 319.6 L446.4 319.5 L446.9 319.5 L447.4 319.5 L447.9 319.5 L448.4 319.5 L448.9 319.5 L449.4 319.5 L449.9 319.4 L450.3 319.4 L450.8 319.4 L451.3 319.4 L451.8 319.4 L452.3 319.3 L452.8 319.3 L453.3 319.3 L453.8 319.2 L454.3 319.2 L454.8 319.2 L455.3 319.2 L455.8 319.1 L456.3 319.1 L456.8 319.1 L457.3 319.0 L457.8 319.0 L458.3 319.0 L458.8 318.9 L459.3 318.9 L459.8 318.9 L460.3 318.8 L460.8 318.8 L461.3 318.8 L461.8 318.7 L462.3 318.7 L462.8 318.7 L463.3 318.7 L463.8 318.6 L464.2 318.6 L464.7 318.6 L465.2 318.5 L465.7 318.5 L466.2 318.4 L466.7 318.4 L467.2 318.4 L467.7 318.3 L468.2 318.3 L468.7 318.2 L469.2 318.2 L469.7 318.2 L470.2 318.1 L470.7 318.1 L471.2 318.0 L471.7 318.0 L472.2 317.9 L472.7 317.9 L473.2 317.8 L473.7 317.8 L474.2 317.7 L474.7 317.7 L475.2 317.6 L475.7 317.5 L476.2 317.5 L476.7 317.4 L477.2 317.4 L477.6 317.3 L478.1 317.2 L478.6 317.2 L479.1 317.1 L479.6 317.0 L480.1 316.9 L480.6 316.8 L481.1 316.8 L481.6 316.7 L482.1 316.5 L482.6 316.4 L483.1 316.3 L483.6 316.2 L484.1 316.1 L484.6 315.9 L485.1 315.8 L485.6 315.7 L486.1 315.6 L486.6 315.4 L487.1 315.3 L487.6 315.2 L488.1 315.1 L488.6 315.0 L489.1 314.9 L489.6 314.8 L490.1 314.7 L490.6 314.6 L491.1 314.5 L491.5 314.5 L492.0 314.4 L492.5 314.3 L493.0 314.2 L493.5 314.2 L494.0 314.1 L494.5 314.0 L495.0 314.0 L495.5 313.9 L496.0 313.9 L496.5 313.8 L497.0 313.8 L497.5 313.8 L498.0 313.8 L498.5 313.9 L499.0 313.9 L499.5 314.1 L500.0 314.2 L500.5 314.5 L501.0 314.8 L501.5 315.1 L502.0 315.5 L502.5 315.9 L503.0 316.4 L503.5 317.0 L504.0 317.8 L504.5 318.5 L504.9 319.4 L505.4 320.3 L505.9 321.2 L506.4 322.1 L506.9 323.0 L507.4 323.9 L507.9 324.8 L508.4 325.7 L508.9 326.6 L509.4 327.5 L509.9 328.3 L510.4 329.2 L510.9 329.9 L511.4 330.7 L511.9 331.4 L512.4 332.1 L512.9 332.7 L513.4 333.4 L513.9 333.9 L514.4 334.4 L514.9 334.8 L515.4 335.2 L515.9 335.5 L516.4 335.8 L516.9 336.0 L517.4 336.1 L517.9 336.2 L518.3 336.2 L518.8 336.2 L519.3 336.1 L519.8 335.9 L520.3 335.7 L520.8 335.4 L521.3 335.1 L521.8 334.7 L522.3 334.2 L522.8 333.7 L523.3 333.2 L523.8 332.5 L524.3 331.9 L524.8 331.2 L525.3 330.5 L525.8 329.7 L526.3 328.9 L526.8 328.1 L527.3 327.2 L527.8 326.3 L528.3 325.4 L528.8 324.5 L529.3 323.6 L529.8 322.7 L530.3 321.7 L530.8 320.8 L531.3 319.8 L531.8 318.9 L532.2 318.0 L532.7 317.3 L533.2 316.6 L533.7 316.0 L534.2 315.5 L534.7 315.1 L535.2 314.8 L535.7 314.5 L536.2 314.3 L536.7 314.2 L537.2 314.1 L537.7 314.1 L538.2 314.1 L538.7 314.1 L539.2 314.2 L539.7 314.3 L540.2 314.4 L540.7 314.5 L541.2 314.6 L541.7 314.7 L542.2 314.8 L542.7 314.9 L543.2 315.0 L543.7 315.1 L544.2 315.2 L544.7 315.3 L545.2 315.4 L545.6 315.5 L546.1 315.7 L546.6 315.8 L547.1 315.9 L547.6 316.0 L548.1 316.2 L548.6 316.3 L549.1 316.4 L549.6 316.5 L550.1 316.6 L550.6 316.7 L551.1 316.8 L551.6 316.9 L552.1 317.0 L552.6 317.1 L553.1 317.1 L553.6 317.2 L554.1 317.3 L554.6 317.3 L555.1 317.4 L555.6 317.5 L556.1 317.5 L556.6 317.6 L557.1 317.6 L557.6 317.7 L558.1 317.7 L558.6 317.8 L559.1 317.8 L559.5 317.9 L560.0 317.9 L560.5 318.0 L561.0 318.0 L561.5 318.1 L562.0 318.1 L562.5 318.1 L563.0 318.2 L563.5 318.2 L564.0 318.3 L564.5 318.3 L565.0 318.3 L565.5 318.4 L566.0 318.4 L566.5 318.4 L567.0 318.5 L567.5 318.5 L568.0 318.5 L568.5 318.6 L569.0 318.6 L569.5 318.6 L570.0 318.7 L570.5 318.7 L571.0 318.7 L571.5 318.7 L572.0 318.8 L572.5 318.8 L572.9 318.8 L573.4 318.8 L573.9 318.9 L574.4 318.9 L574.9 318.9 L575.4 318.9 L575.9 319.0 L576.4 319.0 L576.9 319.0 L577.4 319.0 L577.9 319.0 L578.4 319.1 L578.9 319.1 L579.4 319.1 L579.9 319.1 L580.4 319.1 L580.9 319.1 L581.4 319.1 L581.9 319.2 L582.4 319.2 L582.9 319.2 L583.4 319.2 L583.9 319.2 L584.4 319.2 L584.9 319.2 L585.4 319.2 L585.9 319.3 L586.4 319.3 L586.8 319.3 L587.3 319.3 L587.8 319.3 L588.3 319.3 L588.8 319.3 L589.3 319.3 L589.8 319.3 L590.3 319.3 L590.8 319.3 L591.3 319.3 L591.8 319.3 L592.3 319.3 L592.8 319.3 L593.3 319.3" stroke="#1660dc" stroke-width="2.1" fill="none" stroke-linejoin="round"/><path d="M443.4 362.0 L443.9 362.0 L444.4 362.0 L444.9 362.0 L445.4 362.1 L445.9 362.1 L446.4 362.1 L446.9 362.1 L447.4 362.1 L447.9 362.1 L448.4 362.0 L448.9 362.0 L449.4 361.9 L449.9 361.9 L450.3 361.9 L450.8 361.9 L451.3 361.9 L451.8 361.8 L452.3 361.6 L452.8 361.3 L453.3 361.0 L453.8 360.8 L454.3 360.6 L454.8 360.5 L455.3 360.5 L455.8 360.7 L456.3 360.8 L456.8 361.0 L457.3 361.1 L457.8 361.2 L458.3 361.3 L458.8 361.4 L459.3 361.4 L459.8 361.3 L460.3 361.3 L460.8 361.2 L461.3 361.2 L461.8 361.3 L462.3 361.4 L462.8 361.5 L463.3 361.6 L463.8 361.6 L464.2 361.7 L464.7 361.7 L465.2 361.7 L465.7 361.7 L466.2 361.6 L466.7 361.6 L467.2 361.5 L467.7 361.4 L468.2 361.3 L468.7 361.1 L469.2 361.0 L469.7 360.8 L470.2 360.7 L470.7 360.5 L471.2 360.4 L471.7 360.2 L472.2 360.1 L472.7 360.1 L473.2 360.1 L473.7 360.0 L474.2 360.0 L474.7 360.0 L475.2 360.0 L475.7 359.9 L476.2 359.8 L476.7 359.7 L477.2 359.6 L477.6 359.5 L478.1 359.4 L478.6 359.3 L479.1 359.2 L479.6 359.1 L480.1 359.0 L480.6 358.9 L481.1 358.8 L481.6 358.8 L482.1 358.7 L482.6 358.7 L483.1 358.6 L483.6 358.5 L484.1 358.3 L484.6 358.1 L485.1 358.0 L485.6 357.8 L486.1 357.7 L486.6 357.6 L487.1 357.4 L487.6 357.3 L488.1 357.2 L488.6 357.0 L489.1 356.8 L489.6 356.7 L490.1 356.5 L490.6 356.4 L491.1 356.2 L491.5 356.0 L492.0 355.7 L492.5 355.5 L493.0 355.3 L493.5 355.0 L494.0 354.8 L494.5 354.6 L495.0 354.4 L495.5 354.3 L496.0 354.2 L496.5 354.2 L497.0 354.3 L497.5 354.3 L498.0 354.3 L498.5 354.3 L499.0 354.3 L499.5 354.4 L500.0 354.6 L500.5 354.9 L501.0 355.2 L501.5 355.7 L502.0 356.2 L502.5 356.9 L503.0 357.7 L503.5 358.6 L504.0 359.5 L504.5 360.6 L504.9 361.7 L505.4 362.9 L505.9 364.1 L506.4 365.4 L506.9 366.7 L507.4 368.0 L507.9 369.4 L508.4 370.7 L508.9 372.0 L509.4 373.2 L509.9 374.3 L510.4 375.3 L510.9 376.3 L511.4 377.3 L511.9 378.2 L512.4 378.9 L512.9 379.6 L513.4 380.2 L513.9 380.8 L514.4 381.3 L514.9 381.7 L515.4 382.1 L515.9 382.4 L516.4 382.6 L516.9 382.8 L517.4 383.0 L517.9 383.1 L518.3 383.2 L518.8 383.2 L519.3 383.1 L519.8 382.9 L520.3 382.7 L520.8 382.3 L521.3 382.0 L521.8 381.5 L522.3 381.1 L522.8 380.5 L523.3 379.8 L523.8 379.0 L524.3 378.1 L524.8 377.1 L525.3 376.1 L525.8 375.1 L526.3 373.9 L526.8 372.7 L527.3 371.5 L527.8 370.2 L528.3 368.8 L528.8 367.4 L529.3 366.1 L529.8 364.7 L530.3 363.3 L530.8 361.9 L531.3 360.6 L531.8 359.4 L532.2 358.4 L532.7 357.5 L533.2 356.8 L533.7 356.2 L534.2 355.8 L534.7 355.4 L535.2 355.1 L535.7 354.9 L536.2 354.7 L536.7 354.6 L537.2 354.6 L537.7 354.7 L538.2 354.9 L538.7 355.0 L539.2 355.1 L539.7 355.3 L540.2 355.5 L540.7 355.7 L541.2 355.9 L541.7 356.1 L542.2 356.3 L542.7 356.5 L543.2 356.7 L543.7 356.9 L544.2 357.1 L544.7 357.2 L545.2 357.3 L545.6 357.4 L546.1 357.5 L546.6 357.6 L547.1 357.9 L547.6 358.2 L548.1 358.5 L548.6 358.7 L549.1 358.9 L549.6 359.1 L550.1 359.1 L550.6 359.2 L551.1 359.2 L551.6 359.3 L552.1 359.4 L552.6 359.5 L553.1 359.6 L553.6 359.7 L554.1 359.8 L554.6 359.9 L555.1 359.9 L555.6 359.9 L556.1 359.9 L556.6 359.9 L557.1 360.0 L557.6 360.1 L558.1 360.2 L558.6 360.4 L559.1 360.5 L559.5 360.6 L560.0 360.6 L560.5 360.7 L561.0 360.8 L561.5 360.8 L562.0 360.8 L562.5 360.8 L563.0 360.8 L563.5 360.8 L564.0 360.7 L564.5 360.6 L565.0 360.5 L565.5 360.3 L566.0 360.1 L566.5 359.9 L567.0 359.7 L567.5 359.6 L568.0 359.5 L568.5 359.4 L569.0 359.5 L569.5 359.7 L570.0 359.9 L570.5 360.2 L571.0 360.5 L571.5 360.7 L572.0 360.9 L572.5 361.1 L572.9 361.2 L573.4 361.4 L573.9 361.5 L574.4 361.6 L574.9 361.7 L575.4 361.8 L575.9 361.8 L576.4 361.9 L576.9 361.9 L577.4 361.9 L577.9 362.0 L578.4 362.0 L578.9 362.0 L579.4 361.9 L579.9 361.9 L580.4 361.8 L580.9 361.7 L581.4 361.6 L581.9 361.6 L582.4 361.6 L582.9 361.6 L583.4 361.5 L583.9 361.4 L584.4 361.3 L584.9 361.2 L585.4 361.1 L585.9 361.0 L586.4 360.9 L586.8 360.9 L587.3 361.0 L587.8 361.1 L588.3 361.3 L588.8 361.5 L589.3 361.7 L589.8 361.8 L590.3 362.0 L590.8 362.0 L591.3 362.1 L591.8 362.1 L592.3 362.1 L592.8 362.1 L593.3 362.1" stroke="#000" stroke-width="6" fill="none" stroke-linejoin="round" stroke-linecap="round"/><path d="M443.4 362.1 L443.9 362.1 L444.4 362.1 L444.9 362.1 L445.4 362.1 L445.9 362.1 L446.4 362.1 L446.9 362.0 L447.4 362.0 L447.9 362.0 L448.4 362.0 L448.9 362.0 L449.4 361.9 L449.9 361.9 L450.3 361.9 L450.8 361.9 L451.3 361.8 L451.8 361.8 L452.3 361.8 L452.8 361.7 L453.3 361.7 L453.8 361.7 L454.3 361.6 L454.8 361.6 L455.3 361.6 L455.8 361.5 L456.3 361.5 L456.8 361.5 L457.3 361.4 L457.8 361.4 L458.3 361.3 L458.8 361.3 L459.3 361.3 L459.8 361.2 L460.3 361.2 L460.8 361.1 L461.3 361.1 L461.8 361.1 L462.3 361.0 L462.8 361.0 L463.3 360.9 L463.8 360.9 L464.2 360.9 L464.7 360.8 L465.2 360.8 L465.7 360.8 L466.2 360.7 L466.7 360.7 L467.2 360.6 L467.7 360.6 L468.2 360.6 L468.7 360.5 L469.2 360.5 L469.7 360.4 L470.2 360.4 L470.7 360.3 L471.2 360.3 L471.7 360.2 L472.2 360.2 L472.7 360.1 L473.2 360.1 L473.7 360.0 L474.2 360.0 L474.7 359.9 L475.2 359.9 L475.7 359.8 L476.2 359.8 L476.7 359.7 L477.2 359.6 L477.6 359.6 L478.1 359.5 L478.6 359.4 L479.1 359.4 L479.6 359.3 L480.1 359.2 L480.6 359.1 L481.1 359.0 L481.6 359.0 L482.1 358.9 L482.6 358.7 L483.1 358.6 L483.6 358.5 L484.1 358.4 L484.6 358.3 L485.1 358.1 L485.6 358.0 L486.1 357.9 L486.6 357.7 L487.1 357.6 L487.6 357.5 L488.1 357.3 L488.6 357.2 L489.1 357.0 L489.6 356.9 L490.1 356.8 L490.6 356.6 L491.1 356.4 L491.5 356.3 L492.0 356.1 L492.5 355.9 L493.0 355.7 L493.5 355.5 L494.0 355.4 L494.5 355.2 L495.0 355.0 L495.5 354.9 L496.0 354.8 L496.5 354.8 L497.0 354.7 L497.5 354.7 L498.0 354.7 L498.5 354.7 L499.0 354.8 L499.5 354.9 L500.0 355.0 L500.5 355.2 L501.0 355.5 L501.5 355.9 L502.0 356.4 L502.5 357.1 L503.0 357.8 L503.5 358.6 L504.0 359.6 L504.5 360.6 L504.9 361.7 L505.4 362.8 L505.9 364.0 L506.4 365.3 L506.9 366.6 L507.4 368.0 L507.9 369.3 L508.4 370.6 L508.9 371.9 L509.4 373.2 L509.9 374.3 L510.4 375.4 L510.9 376.4 L511.4 377.3 L511.9 378.1 L512.4 378.9 L512.9 379.6 L513.4 380.2 L513.9 380.7 L514.4 381.2 L514.9 381.6 L515.4 381.9 L515.9 382.2 L516.4 382.5 L516.9 382.7 L517.4 382.8 L517.9 382.9 L518.3 383.0 L518.8 382.9 L519.3 382.8 L519.8 382.6 L520.3 382.4 L520.8 382.1 L521.3 381.8 L521.8 381.4 L522.3 381.0 L522.8 380.4 L523.3 379.8 L523.8 379.0 L524.3 378.2 L524.8 377.3 L525.3 376.3 L525.8 375.2 L526.3 374.1 L526.8 372.9 L527.3 371.6 L527.8 370.3 L528.3 369.0 L528.8 367.6 L529.3 366.2 L529.8 364.7 L530.3 363.3 L530.8 361.9 L531.3 360.6 L531.8 359.4 L532.2 358.4 L532.7 357.5 L533.2 356.7 L533.7 356.1 L534.2 355.6 L534.7 355.2 L535.2 355.0 L535.7 354.9 L536.2 354.8 L536.7 354.9 L537.2 355.0 L537.7 355.1 L538.2 355.2 L538.7 355.4 L539.2 355.5 L539.7 355.7 L540.2 355.9 L540.7 356.1 L541.2 356.3 L541.7 356.5 L542.2 356.7 L542.7 356.9 L543.2 357.1 L543.7 357.3 L544.2 357.5 L544.7 357.7 L545.2 357.9 L545.6 358.0 L546.1 358.2 L546.6 358.3 L547.1 358.4 L547.6 358.5 L548.1 358.7 L548.6 358.8 L549.1 358.9 L549.6 359.0 L550.1 359.1 L550.6 359.2 L551.1 359.3 L551.6 359.4 L552.1 359.5 L552.6 359.6 L553.1 359.7 L553.6 359.7 L554.1 359.8 L554.6 359.9 L555.1 360.0 L555.6 360.1 L556.1 360.1 L556.6 360.2 L557.1 360.3 L557.6 360.3 L558.1 360.4 L558.6 360.5 L559.1 360.5 L559.5 360.6 L560.0 360.7 L560.5 360.7 L561.0 360.8 L561.5 360.8 L562.0 360.9 L562.5 361.0 L563.0 361.0 L563.5 361.1 L564.0 361.1 L564.5 361.2 L565.0 361.2 L565.5 361.3 L566.0 361.3 L566.5 361.4 L567.0 361.4 L567.5 361.4 L568.0 361.5 L568.5 361.5 L569.0 361.5 L569.5 361.6 L570.0 361.6 L570.5 361.6 L571.0 361.6 L571.5 361.7 L572.0 361.7 L572.5 361.7 L572.9 361.7 L573.4 361.7 L573.9 361.7 L574.4 361.8 L574.9 361.8 L575.4 361.8 L575.9 361.8 L576.4 361.8 L576.9 361.8 L577.4 361.9 L577.9 361.9 L578.4 361.9 L578.9 361.9 L579.4 361.9 L579.9 361.9 L580.4 361.9 L580.9 361.9 L581.4 362.0 L581.9 362.0 L582.4 362.0 L582.9 362.0 L583.4 362.0 L583.9 362.0 L584.4 362.0 L584.9 362.0 L585.4 362.0 L585.9 362.0 L586.4 362.1 L586.8 362.1 L587.3 362.1 L587.8 362.1 L588.3 362.1 L588.8 362.1 L589.3 362.1 L589.8 362.1 L590.3 362.1 L590.8 362.1 L591.3 362.1 L591.8 362.1 L592.3 362.1 L592.8 362.1 L593.3 362.1" stroke="#154be0" stroke-width="2.1" fill="none" stroke-linejoin="round"/><path d="M443.4 405.9 L443.9 405.9 L444.4 406.0 L444.9 406.1 L445.4 406.2 L445.9 406.2 L446.4 406.2 L446.9 406.1 L447.4 406.0 L447.9 406.0 L448.4 405.9 L448.9 406.0 L449.4 406.0 L449.9 406.0 L450.3 406.0 L450.8 405.8 L451.3 405.5 L451.8 405.3 L452.3 405.0 L452.8 404.8 L453.3 404.7 L453.8 404.6 L454.3 404.5 L454.8 404.5 L455.3 404.5 L455.8 404.5 L456.3 404.6 L456.8 404.7 L457.3 404.8 L457.8 404.9 L458.3 405.1 L458.8 405.2 L459.3 405.3 L459.8 405.3 L460.3 405.3 L460.8 405.2 L461.3 405.1 L461.8 405.0 L462.3 404.9 L462.8 404.9 L463.3 404.9 L463.8 405.0 L464.2 405.1 L464.7 405.1 L465.2 405.2 L465.7 405.3 L466.2 405.4 L466.7 405.4 L467.2 405.4 L467.7 405.3 L468.2 405.1 L468.7 405.0 L469.2 404.8 L469.7 404.8 L470.2 404.7 L470.7 404.7 L471.2 404.7 L471.7 404.6 L472.2 404.5 L472.7 404.3 L473.2 404.1 L473.7 403.9 L474.2 403.8 L474.7 403.6 L475.2 403.6 L475.7 403.5 L476.2 403.4 L476.7 403.3 L477.2 403.1 L477.6 403.0 L478.1 402.8 L478.6 402.8 L479.1 402.7 L479.6 402.7 L480.1 402.7 L480.6 402.7 L481.1 402.7 L481.6 402.7 L482.1 402.7 L482.6 402.6 L483.1 402.5 L483.6 402.3 L484.1 402.2 L484.6 402.0 L485.1 401.9 L485.6 401.8 L486.1 401.6 L486.6 401.5 L487.1 401.2 L487.6 401.0 L488.1 400.8 L488.6 400.6 L489.1 400.4 L489.6 400.2 L490.1 400.0 L490.6 399.7 L491.1 399.4 L491.5 399.1 L492.0 398.8 L492.5 398.5 L493.0 398.2 L493.5 397.9 L494.0 397.6 L494.5 397.3 L495.0 396.9 L495.5 396.6 L496.0 396.3 L496.5 396.0 L497.0 395.8 L497.5 395.6 L498.0 395.4 L498.5 395.3 L499.0 395.3 L499.5 395.3 L500.0 395.5 L500.5 395.7 L501.0 396.0 L501.5 396.4 L502.0 396.8 L502.5 397.4 L503.0 398.1 L503.5 399.0 L504.0 400.0 L504.5 401.3 L504.9 402.8 L505.4 404.5 L505.9 406.2 L506.4 408.0 L506.9 409.7 L507.4 411.4 L507.9 413.0 L508.4 414.6 L508.9 416.1 L509.4 417.6 L509.9 419.1 L510.4 420.6 L510.9 422.0 L511.4 423.3 L511.9 424.4 L512.4 425.4 L512.9 426.3 L513.4 427.0 L513.9 427.7 L514.4 428.3 L514.9 428.8 L515.4 429.3 L515.9 429.8 L516.4 430.3 L516.9 430.7 L517.4 431.0 L517.9 431.2 L518.3 431.1 L518.8 430.9 L519.3 430.6 L519.8 430.1 L520.3 429.7 L520.8 429.2 L521.3 428.7 L521.8 428.3 L522.3 427.7 L522.8 427.2 L523.3 426.5 L523.8 425.7 L524.3 424.7 L524.8 423.4 L525.3 422.0 L525.8 420.4 L526.3 418.7 L526.8 417.1 L527.3 415.5 L527.8 413.9 L528.3 412.3 L528.8 410.7 L529.3 409.0 L529.8 407.4 L530.3 405.7 L530.8 404.1 L531.3 402.5 L531.8 401.1 L532.2 399.9 L532.7 398.9 L533.2 398.1 L533.7 397.4 L534.2 396.8 L534.7 396.3 L535.2 396.0 L535.7 395.8 L536.2 395.8 L536.7 395.8 L537.2 396.0 L537.7 396.1 L538.2 396.4 L538.7 396.6 L539.2 396.8 L539.7 397.0 L540.2 397.3 L540.7 397.5 L541.2 397.8 L541.7 398.2 L542.2 398.6 L542.7 398.9 L543.2 399.1 L543.7 399.3 L544.2 399.4 L544.7 399.6 L545.2 399.8 L545.6 400.1 L546.1 400.4 L546.6 400.6 L547.1 400.9 L547.6 401.2 L548.1 401.5 L548.6 401.8 L549.1 402.1 L549.6 402.4 L550.1 402.7 L550.6 403.0 L551.1 403.2 L551.6 403.4 L552.1 403.5 L552.6 403.5 L553.1 403.6 L553.6 403.6 L554.1 403.6 L554.6 403.6 L555.1 403.6 L555.6 403.7 L556.1 403.9 L556.6 404.0 L557.1 404.2 L557.6 404.3 L558.1 404.4 L558.6 404.5 L559.1 404.6 L559.5 404.7 L560.0 404.8 L560.5 404.9 L561.0 404.9 L561.5 404.8 L562.0 404.8 L562.5 404.7 L563.0 404.6 L563.5 404.6 L564.0 404.5 L564.5 404.4 L565.0 404.3 L565.5 404.2 L566.0 404.0 L566.5 403.8 L567.0 403.7 L567.5 403.5 L568.0 403.3 L568.5 403.2 L569.0 403.2 L569.5 403.2 L570.0 403.3 L570.5 403.4 L571.0 403.7 L571.5 403.9 L572.0 404.2 L572.5 404.5 L572.9 404.8 L573.4 405.1 L573.9 405.4 L574.4 405.5 L574.9 405.7 L575.4 405.7 L575.9 405.8 L576.4 405.8 L576.9 405.8 L577.4 405.8 L577.9 405.7 L578.4 405.6 L578.9 405.6 L579.4 405.5 L579.9 405.5 L580.4 405.5 L580.9 405.6 L581.4 405.6 L581.9 405.6 L582.4 405.6 L582.9 405.6 L583.4 405.6 L583.9 405.5 L584.4 405.4 L584.9 405.2 L585.4 405.0 L585.9 404.9 L586.4 404.8 L586.8 404.8 L587.3 405.0 L587.8 405.2 L588.3 405.4 L588.8 405.6 L589.3 405.7 L589.8 405.7 L590.3 405.7 L590.8 405.7 L591.3 405.7 L591.8 405.7 L592.3 405.8 L592.8 405.9 L593.3 405.9" stroke="#000" stroke-width="6" fill="none" stroke-linejoin="round" stroke-linecap="round"/><path d="M443.4 406.1 L443.9 406.1 L444.4 406.1 L444.9 406.1 L445.4 406.1 L445.9 406.0 L446.4 406.0 L446.9 406.0 L447.4 406.0 L447.9 406.0 L448.4 406.0 L448.9 405.9 L449.4 405.9 L449.9 405.9 L450.3 405.9 L450.8 405.8 L451.3 405.8 L451.8 405.8 L452.3 405.8 L452.8 405.7 L453.3 405.7 L453.8 405.7 L454.3 405.6 L454.8 405.6 L455.3 405.5 L455.8 405.5 L456.3 405.5 L456.8 405.4 L457.3 405.4 L457.8 405.4 L458.3 405.3 L458.8 405.3 L459.3 405.2 L459.8 405.2 L460.3 405.2 L460.8 405.1 L461.3 405.1 L461.8 405.0 L462.3 405.0 L462.8 405.0 L463.3 404.9 L463.8 404.9 L464.2 404.8 L464.7 404.8 L465.2 404.8 L465.7 404.7 L466.2 404.7 L466.7 404.6 L467.2 404.6 L467.7 404.5 L468.2 404.5 L468.7 404.4 L469.2 404.4 L469.7 404.3 L470.2 404.3 L470.7 404.2 L471.2 404.2 L471.7 404.1 L472.2 404.1 L472.7 404.0 L473.2 404.0 L473.7 403.9 L474.2 403.8 L474.7 403.8 L475.2 403.7 L475.7 403.6 L476.2 403.6 L476.7 403.5 L477.2 403.4 L477.6 403.4 L478.1 403.3 L478.6 403.2 L479.1 403.1 L479.6 403.0 L480.1 403.0 L480.6 402.9 L481.1 402.8 L481.6 402.7 L482.1 402.6 L482.6 402.5 L483.1 402.4 L483.6 402.2 L484.1 402.1 L484.6 402.0 L485.1 401.9 L485.6 401.7 L486.1 401.6 L486.6 401.4 L487.1 401.3 L487.6 401.1 L488.1 401.0 L488.6 400.8 L489.1 400.6 L489.6 400.5 L490.1 400.3 L490.6 400.1 L491.1 399.8 L491.5 399.6 L492.0 399.3 L492.5 399.1 L493.0 398.8 L493.5 398.5 L494.0 398.2 L494.5 397.9 L495.0 397.6 L495.5 397.4 L496.0 397.1 L496.5 396.9 L497.0 396.6 L497.5 396.4 L498.0 396.2 L498.5 396.0 L499.0 395.9 L499.5 395.8 L500.0 395.8 L500.5 395.9 L501.0 396.1 L501.5 396.4 L502.0 396.8 L502.5 397.4 L503.0 398.2 L503.5 399.2 L504.0 400.3 L504.5 401.6 L504.9 402.9 L505.4 404.4 L505.9 406.0 L506.4 407.6 L506.9 409.2 L507.4 410.9 L507.9 412.5 L508.4 414.2 L508.9 415.8 L509.4 417.3 L509.9 418.8 L510.4 420.3 L510.9 421.7 L511.4 423.0 L511.9 424.1 L512.4 425.2 L512.9 426.1 L513.4 426.9 L513.9 427.6 L514.4 428.2 L514.9 428.8 L515.4 429.3 L515.9 429.7 L516.4 430.1 L516.9 430.4 L517.4 430.7 L517.9 430.8 L518.3 430.8 L518.8 430.8 L519.3 430.6 L519.8 430.4 L520.3 430.0 L520.8 429.6 L521.3 429.2 L521.8 428.6 L522.3 428.0 L522.8 427.4 L523.3 426.6 L523.8 425.7 L524.3 424.6 L524.8 423.3 L525.3 421.9 L525.8 420.4 L526.3 418.8 L526.8 417.1 L527.3 415.4 L527.8 413.8 L528.3 412.1 L528.8 410.4 L529.3 408.7 L529.8 407.1 L530.3 405.5 L530.8 404.0 L531.3 402.6 L531.8 401.2 L532.2 400.0 L532.7 398.9 L533.2 398.0 L533.7 397.3 L534.2 396.7 L534.7 396.3 L535.2 396.0 L535.7 395.9 L536.2 395.9 L536.7 395.9 L537.2 396.1 L537.7 396.3 L538.2 396.6 L538.7 396.9 L539.2 397.1 L539.7 397.4 L540.2 397.7 L540.7 398.0 L541.2 398.4 L541.7 398.7 L542.2 399.0 L542.7 399.3 L543.2 399.6 L543.7 399.9 L544.2 400.2 L544.7 400.4 L545.2 400.7 L545.6 400.9 L546.1 401.1 L546.6 401.3 L547.1 401.4 L547.6 401.6 L548.1 401.8 L548.6 402.0 L549.1 402.1 L549.6 402.3 L550.1 402.4 L550.6 402.6 L551.1 402.7 L551.6 402.9 L552.1 403.0 L552.6 403.1 L553.1 403.2 L553.6 403.4 L554.1 403.5 L554.6 403.6 L555.1 403.7 L555.6 403.8 L556.1 403.8 L556.6 403.9 L557.1 404.0 L557.6 404.1 L558.1 404.1 L558.6 404.2 L559.1 404.3 L559.5 404.4 L560.0 404.4 L560.5 404.5 L561.0 404.5 L561.5 404.6 L562.0 404.7 L562.5 404.7 L563.0 404.8 L563.5 404.8 L564.0 404.9 L564.5 404.9 L565.0 405.0 L565.5 405.0 L566.0 405.1 L566.5 405.1 L567.0 405.1 L567.5 405.2 L568.0 405.2 L568.5 405.3 L569.0 405.3 L569.5 405.3 L570.0 405.3 L570.5 405.4 L571.0 405.4 L571.5 405.4 L572.0 405.4 L572.5 405.4 L572.9 405.4 L573.4 405.5 L573.9 405.5 L574.4 405.5 L574.9 405.5 L575.4 405.5 L575.9 405.5 L576.4 405.6 L576.9 405.6 L577.4 405.6 L577.9 405.6 L578.4 405.6 L578.9 405.6 L579.4 405.6 L579.9 405.7 L580.4 405.7 L580.9 405.7 L581.4 405.7 L581.9 405.7 L582.4 405.7 L582.9 405.7 L583.4 405.7 L583.9 405.7 L584.4 405.8 L584.9 405.8 L585.4 405.8 L585.9 405.8 L586.4 405.8 L586.8 405.8 L587.3 405.8 L587.8 405.8 L588.3 405.8 L588.8 405.8 L589.3 405.8 L589.8 405.8 L590.3 405.8 L590.8 405.8 L591.3 405.8 L591.8 405.8 L592.3 405.8 L592.8 405.8 L593.3 405.8" stroke="#1638e4" stroke-width="2.1" fill="none" stroke-linejoin="round"/><path d="M443.4 450.1 L443.9 450.0 L444.4 450.0 L444.9 449.9 L445.4 449.9 L445.9 449.9 L446.4 450.0 L446.9 450.0 L447.4 450.0 L447.9 449.9 L448.4 449.8 L448.9 449.7 L449.4 449.6 L449.9 449.5 L450.3 449.4 L450.8 449.3 L451.3 449.1 L451.8 449.0 L452.3 448.9 L452.8 448.7 L453.3 448.5 L453.8 448.4 L454.3 448.3 L454.8 448.3 L455.3 448.4 L455.8 448.6 L456.3 448.8 L456.8 449.0 L457.3 449.1 L457.8 449.2 L458.3 449.2 L458.8 449.2 L459.3 449.1 L459.8 449.1 L460.3 449.1 L460.8 449.1 L461.3 449.2 L461.8 449.3 L462.3 449.4 L462.8 449.5 L463.3 449.6 L463.8 449.6 L464.2 449.7 L464.7 449.6 L465.2 449.6 L465.7 449.5 L466.2 449.3 L466.7 449.1 L467.2 449.0 L467.7 448.8 L468.2 448.7 L468.7 448.6 L469.2 448.5 L469.7 448.4 L470.2 448.4 L470.7 448.4 L471.2 448.3 L471.7 448.3 L472.2 448.1 L472.7 448.0 L473.2 447.8 L473.7 447.7 L474.2 447.6 L474.7 447.5 L475.2 447.5 L475.7 447.5 L476.2 447.5 L476.7 447.4 L477.2 447.3 L477.6 447.1 L478.1 447.1 L478.6 447.0 L479.1 447.1 L479.6 447.1 L480.1 447.1 L480.6 447.1 L481.1 447.0 L481.6 446.9 L482.1 446.7 L482.6 446.5 L483.1 446.4 L483.6 446.2 L484.1 446.1 L484.6 446.1 L485.1 446.0 L485.6 445.8 L486.1 445.7 L486.6 445.5 L487.1 445.2 L487.6 444.9 L488.1 444.7 L488.6 444.3 L489.1 444.0 L489.6 443.7 L490.1 443.3 L490.6 443.0 L491.1 442.7 L491.5 442.4 L492.0 442.1 L492.5 441.8 L493.0 441.5 L493.5 441.1 L494.0 440.8 L494.5 440.4 L495.0 440.0 L495.5 439.5 L496.0 439.1 L496.5 438.6 L497.0 438.2 L497.5 437.8 L498.0 437.3 L498.5 436.7 L499.0 436.1 L499.5 435.5 L500.0 435.0 L500.5 434.6 L501.0 434.3 L501.5 434.1 L502.0 434.1 L502.5 434.3 L503.0 434.8 L503.5 435.6 L504.0 436.7 L504.5 438.2 L504.9 439.8 L505.4 441.7 L505.9 443.7 L506.4 445.8 L506.9 448.0 L507.4 450.3 L507.9 452.6 L508.4 455.0 L508.9 457.3 L509.4 459.6 L509.9 461.7 L510.4 463.7 L510.9 465.6 L511.4 467.3 L511.9 468.8 L512.4 470.1 L512.9 471.3 L513.4 472.4 L513.9 473.4 L514.4 474.1 L514.9 474.8 L515.4 475.3 L515.9 475.7 L516.4 476.1 L516.9 476.5 L517.4 476.8 L517.9 477.0 L518.3 477.1 L518.8 477.1 L519.3 476.9 L519.8 476.6 L520.3 476.2 L520.8 475.7 L521.3 475.2 L521.8 474.6 L522.3 473.8 L522.8 473.0 L523.3 472.1 L523.8 471.0 L524.3 469.8 L524.8 468.4 L525.3 466.9 L525.8 465.2 L526.3 463.3 L526.8 461.3 L527.3 459.1 L527.8 456.8 L528.3 454.5 L528.8 452.1 L529.3 449.8 L529.8 447.4 L530.3 445.2 L530.8 443.0 L531.3 440.9 L531.8 439.1 L532.2 437.5 L532.7 436.2 L533.2 435.2 L533.7 434.7 L534.2 434.5 L534.7 434.6 L535.2 435.0 L535.7 435.6 L536.2 436.3 L536.7 437.0 L537.2 437.7 L537.7 438.4 L538.2 439.0 L538.7 439.6 L539.2 440.1 L539.7 440.5 L540.2 440.9 L540.7 441.2 L541.2 441.4 L541.7 441.6 L542.2 441.8 L542.7 442.1 L543.2 442.5 L543.7 442.9 L544.2 443.3 L544.7 443.8 L545.2 444.2 L545.6 444.6 L546.1 444.9 L546.6 445.2 L547.1 445.5 L547.6 445.8 L548.1 446.0 L548.6 446.2 L549.1 446.4 L549.6 446.6 L550.1 446.9 L550.6 447.0 L551.1 447.2 L551.6 447.3 L552.1 447.4 L552.6 447.5 L553.1 447.5 L553.6 447.6 L554.1 447.7 L554.6 447.7 L555.1 447.8 L555.6 447.9 L556.1 448.0 L556.6 448.0 L557.1 448.1 L557.6 448.1 L558.1 448.1 L558.6 448.1 L559.1 448.0 L559.5 447.9 L560.0 447.9 L560.5 447.8 L561.0 447.8 L561.5 447.9 L562.0 448.1 L562.5 448.2 L563.0 448.3 L563.5 448.3 L564.0 448.3 L564.5 448.3 L565.0 448.2 L565.5 448.1 L566.0 447.9 L566.5 447.7 L567.0 447.5 L567.5 447.3 L568.0 447.1 L568.5 446.9 L569.0 446.9 L569.5 447.0 L570.0 447.2 L570.5 447.5 L571.0 447.8 L571.5 448.1 L572.0 448.3 L572.5 448.6 L572.9 448.8 L573.4 449.0 L573.9 449.2 L574.4 449.4 L574.9 449.6 L575.4 449.7 L575.9 449.8 L576.4 449.8 L576.9 449.8 L577.4 449.8 L577.9 449.7 L578.4 449.6 L578.9 449.6 L579.4 449.6 L579.9 449.6 L580.4 449.7 L580.9 449.7 L581.4 449.7 L581.9 449.7 L582.4 449.6 L582.9 449.5 L583.4 449.3 L583.9 449.2 L584.4 449.1 L584.9 449.1 L585.4 449.0 L585.9 448.9 L586.4 448.8 L586.8 448.8 L587.3 448.8 L587.8 449.0 L588.3 449.2 L588.8 449.5 L589.3 449.7 L589.8 449.8 L590.3 449.8 L590.8 449.8 L591.3 449.8 L591.8 449.7 L592.3 449.6 L592.8 449.6 L593.3 449.6" stroke="#000" stroke-width="6" fill="none" stroke-linejoin="round" stroke-linecap="round"/><path d="M443.4 449.8 L443.9 449.8 L444.4 449.8 L444.9 449.8 L445.4 449.7 L445.9 449.7 L446.4 449.7 L446.9 449.7 L447.4 449.7 L447.9 449.7 L448.4 449.7 L448.9 449.7 L449.4 449.6 L449.9 449.6 L450.3 449.6 L450.8 449.6 L451.3 449.6 L451.8 449.5 L452.3 449.5 L452.8 449.5 L453.3 449.5 L453.8 449.4 L454.3 449.4 L454.8 449.4 L455.3 449.4 L455.8 449.3 L456.3 449.3 L456.8 449.3 L457.3 449.2 L457.8 449.2 L458.3 449.2 L458.8 449.1 L459.3 449.1 L459.8 449.1 L460.3 449.0 L460.8 449.0 L461.3 449.0 L461.8 448.9 L462.3 448.9 L462.8 448.9 L463.3 448.8 L463.8 448.8 L464.2 448.8 L464.7 448.7 L465.2 448.7 L465.7 448.7 L466.2 448.6 L466.7 448.6 L467.2 448.5 L467.7 448.5 L468.2 448.4 L468.7 448.4 L469.2 448.3 L469.7 448.3 L470.2 448.2 L470.7 448.2 L471.2 448.1 L471.7 448.1 L472.2 448.0 L472.7 448.0 L473.2 447.9 L473.7 447.8 L474.2 447.8 L474.7 447.7 L475.2 447.7 L475.7 447.6 L476.2 447.5 L476.7 447.4 L477.2 447.4 L477.6 447.3 L478.1 447.2 L478.6 447.1 L479.1 447.1 L479.6 447.0 L480.1 446.9 L480.6 446.8 L481.1 446.7 L481.6 446.6 L482.1 446.5 L482.6 446.4 L483.1 446.3 L483.6 446.1 L484.1 446.0 L484.6 445.9 L485.1 445.7 L485.6 445.6 L486.1 445.4 L486.6 445.3 L487.1 445.1 L487.6 444.9 L488.1 444.8 L488.6 444.6 L489.1 444.4 L489.6 444.2 L490.1 444.0 L490.6 443.7 L491.1 443.5 L491.5 443.2 L492.0 442.9 L492.5 442.5 L493.0 442.2 L493.5 441.8 L494.0 441.4 L494.5 441.0 L495.0 440.6 L495.5 440.1 L496.0 439.7 L496.5 439.2 L497.0 438.7 L497.5 438.1 L498.0 437.6 L498.5 437.0 L499.0 436.4 L499.5 435.8 L500.0 435.3 L500.5 434.9 L501.0 434.5 L501.5 434.4 L502.0 434.3 L502.5 434.5 L503.0 435.0 L503.5 435.8 L504.0 436.8 L504.5 438.2 L504.9 439.8 L505.4 441.6 L505.9 443.6 L506.4 445.8 L506.9 448.1 L507.4 450.5 L507.9 452.8 L508.4 455.2 L508.9 457.5 L509.4 459.7 L509.9 461.8 L510.4 463.8 L510.9 465.6 L511.4 467.3 L511.9 468.8 L512.4 470.2 L512.9 471.4 L513.4 472.5 L513.9 473.4 L514.4 474.2 L514.9 474.8 L515.4 475.4 L515.9 475.8 L516.4 476.2 L516.9 476.5 L517.4 476.7 L517.9 476.8 L518.3 476.9 L518.8 476.8 L519.3 476.6 L519.8 476.4 L520.3 476.1 L520.8 475.7 L521.3 475.2 L521.8 474.6 L522.3 473.9 L522.8 473.1 L523.3 472.1 L523.8 471.0 L524.3 469.8 L524.8 468.4 L525.3 466.8 L525.8 465.1 L526.3 463.2 L526.8 461.2 L527.3 459.0 L527.8 456.8 L528.3 454.4 L528.8 452.1 L529.3 449.8 L529.8 447.5 L530.3 445.2 L530.8 443.0 L531.3 441.0 L531.8 439.1 L532.2 437.5 L532.7 436.2 L533.2 435.3 L533.7 434.7 L534.2 434.5 L534.7 434.6 L535.2 434.9 L535.7 435.4 L536.2 436.1 L536.7 436.8 L537.2 437.6 L537.7 438.4 L538.2 439.1 L538.7 439.7 L539.2 440.3 L539.7 440.8 L540.2 441.2 L540.7 441.7 L541.2 442.1 L541.7 442.5 L542.2 442.9 L542.7 443.2 L543.2 443.5 L543.7 443.8 L544.2 444.1 L544.7 444.4 L545.2 444.6 L545.6 444.8 L546.1 445.0 L546.6 445.2 L547.1 445.4 L547.6 445.6 L548.1 445.8 L548.6 445.9 L549.1 446.1 L549.6 446.3 L550.1 446.4 L550.6 446.5 L551.1 446.7 L551.6 446.8 L552.1 446.9 L552.6 447.1 L553.1 447.2 L553.6 447.3 L554.1 447.4 L554.6 447.5 L555.1 447.6 L555.6 447.7 L556.1 447.8 L556.6 447.8 L557.1 447.9 L557.6 448.0 L558.1 448.1 L558.6 448.1 L559.1 448.2 L559.5 448.3 L560.0 448.3 L560.5 448.4 L561.0 448.5 L561.5 448.5 L562.0 448.6 L562.5 448.6 L563.0 448.7 L563.5 448.8 L564.0 448.8 L564.5 448.9 L565.0 448.9 L565.5 449.0 L566.0 449.0 L566.5 449.0 L567.0 449.1 L567.5 449.1 L568.0 449.1 L568.5 449.2 L569.0 449.2 L569.5 449.2 L570.0 449.3 L570.5 449.3 L571.0 449.3 L571.5 449.3 L572.0 449.3 L572.5 449.4 L572.9 449.4 L573.4 449.4 L573.9 449.4 L574.4 449.4 L574.9 449.4 L575.4 449.5 L575.9 449.5 L576.4 449.5 L576.9 449.5 L577.4 449.5 L577.9 449.5 L578.4 449.5 L578.9 449.6 L579.4 449.6 L579.9 449.6 L580.4 449.6 L580.9 449.6 L581.4 449.6 L581.9 449.6 L582.4 449.6 L582.9 449.7 L583.4 449.7 L583.9 449.7 L584.4 449.7 L584.9 449.7 L585.4 449.7 L585.9 449.7 L586.4 449.7 L586.8 449.7 L587.3 449.7 L587.8 449.7 L588.3 449.7 L588.8 449.7 L589.3 449.7 L589.8 449.8 L590.3 449.8 L590.8 449.8 L591.3 449.8 L591.8 449.8 L592.3 449.8 L592.8 449.8 L593.3 449.8" stroke="#1626e8" stroke-width="2.1" fill="none" stroke-linejoin="round"/><path d="M443.4 493.7 L443.9 493.8 L444.4 493.8 L444.9 493.9 L445.4 494.0 L445.9 494.0 L446.4 494.0 L446.9 493.9 L447.4 493.8 L447.9 493.7 L448.4 493.5 L448.9 493.4 L449.4 493.3 L449.9 493.2 L450.3 493.1 L450.8 493.0 L451.3 492.9 L451.8 492.7 L452.3 492.5 L452.8 492.3 L453.3 492.1 L453.8 491.9 L454.3 491.9 L454.8 491.9 L455.3 491.9 L455.8 492.0 L456.3 492.1 L456.8 492.2 L457.3 492.3 L457.8 492.4 L458.3 492.5 L458.8 492.6 L459.3 492.6 L459.8 492.6 L460.3 492.7 L460.8 492.7 L461.3 492.7 L461.8 492.7 L462.3 492.8 L462.8 492.9 L463.3 493.1 L463.8 493.2 L464.2 493.3 L464.7 493.3 L465.2 493.2 L465.7 493.0 L466.2 492.8 L466.7 492.7 L467.2 492.6 L467.7 492.5 L468.2 492.4 L468.7 492.3 L469.2 492.2 L469.7 492.0 L470.2 491.9 L470.7 491.8 L471.2 491.7 L471.7 491.6 L472.2 491.4 L472.7 491.3 L473.2 491.1 L473.7 491.0 L474.2 491.0 L474.7 490.9 L475.2 490.9 L475.7 490.8 L476.2 490.7 L476.7 490.6 L477.2 490.5 L477.6 490.3 L478.1 490.2 L478.6 490.2 L479.1 490.1 L479.6 490.1 L480.1 490.1 L480.6 490.0 L481.1 489.9 L481.6 489.8 L482.1 489.7 L482.6 489.5 L483.1 489.4 L483.6 489.2 L484.1 488.9 L484.6 488.6 L485.1 488.3 L485.6 488.1 L486.1 487.9 L486.6 487.7 L487.1 487.6 L487.6 487.5 L488.1 487.4 L488.6 487.2 L489.1 486.9 L489.6 486.5 L490.1 486.1 L490.6 485.7 L491.1 485.3 L491.5 484.8 L492.0 484.4 L492.5 483.9 L493.0 483.4 L493.5 483.0 L494.0 482.6 L494.5 482.2 L495.0 481.8 L495.5 481.4 L496.0 480.9 L496.5 480.4 L497.0 479.8 L497.5 479.3 L498.0 478.6 L498.5 477.9 L499.0 477.1 L499.5 476.1 L500.0 475.1 L500.5 474.1 L501.0 476.7 L501.5 475.5 L502.0 474.4 L502.5 473.6 L503.0 473.1 L503.5 473.1 L504.0 473.8 L504.5 475.2 L504.9 477.2 L505.4 479.8 L505.9 483.0 L506.4 482.9 L506.9 486.8 L507.4 490.8 L507.9 494.8 L508.4 498.7 L508.9 502.3 L509.4 505.6 L509.9 508.4 L510.4 510.8 L510.9 512.8 L511.4 514.5 L511.9 515.9 L512.4 517.1 L512.9 518.0 L513.4 518.7 L513.9 519.3 L514.4 519.8 L514.9 520.2 L515.4 520.4 L515.9 520.7 L516.4 520.8 L516.9 520.9 L517.4 520.9 L517.9 520.9 L518.3 520.8 L518.8 520.8 L519.3 520.7 L519.8 520.5 L520.3 520.3 L520.8 520.1 L521.3 519.9 L521.8 519.6 L522.3 519.2 L522.8 518.7 L523.3 518.1 L523.8 517.2 L524.3 516.1 L524.8 514.8 L525.3 513.1 L525.8 511.1 L526.3 508.7 L526.8 506.0 L527.3 502.9 L527.8 499.4 L528.3 495.6 L528.8 491.6 L529.3 487.6 L529.8 483.7 L530.3 480.1 L530.8 480.1 L531.3 477.4 L531.8 475.3 L532.2 473.9 L532.7 473.2 L533.2 473.1 L533.7 473.5 L534.2 474.4 L534.7 475.5 L535.2 476.7 L535.7 478.0 L536.2 475.5 L536.7 476.7 L537.2 477.8 L537.7 478.9 L538.2 479.8 L538.7 480.7 L539.2 481.4 L539.7 482.0 L540.2 482.5 L540.7 483.0 L541.2 483.5 L541.7 484.0 L542.2 484.4 L542.7 484.8 L543.2 485.2 L543.7 485.6 L544.2 486.0 L544.7 486.4 L545.2 486.8 L545.6 487.1 L546.1 487.5 L546.6 487.8 L547.1 488.1 L547.6 488.4 L548.1 488.6 L548.6 488.8 L549.1 488.9 L549.6 489.1 L550.1 489.3 L550.6 489.6 L551.1 489.8 L551.6 490.1 L552.1 490.3 L552.6 490.4 L553.1 490.5 L553.6 490.6 L554.1 490.8 L554.6 490.9 L555.1 491.0 L555.6 491.1 L556.1 491.1 L556.6 491.1 L557.1 491.1 L557.6 491.1 L558.1 491.2 L558.6 491.3 L559.1 491.3 L559.5 491.3 L560.0 491.4 L560.5 491.4 L561.0 491.5 L561.5 491.7 L562.0 491.9 L562.5 492.0 L563.0 492.1 L563.5 492.1 L564.0 492.1 L564.5 492.0 L565.0 491.8 L565.5 491.7 L566.0 491.4 L566.5 491.1 L567.0 490.8 L567.5 490.5 L568.0 490.2 L568.5 490.1 L569.0 490.0 L569.5 490.2 L570.0 490.4 L570.5 490.8 L571.0 491.3 L571.5 491.8 L572.0 492.2 L572.5 492.5 L572.9 492.7 L573.4 492.8 L573.9 492.8 L574.4 492.8 L574.9 492.7 L575.4 492.7 L575.9 492.7 L576.4 492.7 L576.9 492.7 L577.4 492.7 L577.9 492.7 L578.4 492.7 L578.9 492.7 L579.4 492.7 L579.9 492.7 L580.4 492.7 L580.9 492.8 L581.4 492.8 L581.9 492.8 L582.4 492.8 L582.9 492.8 L583.4 492.7 L583.9 492.7 L584.4 492.6 L584.9 492.5 L585.4 492.5 L585.9 492.4 L586.4 492.4 L586.8 492.4 L587.3 492.4 L587.8 492.6 L588.3 492.7 L588.8 492.9 L589.3 493.0 L589.8 493.2 L590.3 493.2 L590.8 493.2 L591.3 493.2 L591.8 493.2 L592.3 493.3 L592.8 493.3 L593.3 493.3" stroke="#000" stroke-width="6" fill="none" stroke-linejoin="round" stroke-linecap="round"/><path d="M443.4 493.7 L443.9 493.7 L444.4 493.7 L444.9 493.7 L445.4 493.7 L445.9 493.7 L446.4 493.6 L446.9 493.6 L447.4 493.6 L447.9 493.6 L448.4 493.6 L448.9 493.5 L449.4 493.5 L449.9 493.5 L450.3 493.5 L450.8 493.4 L451.3 493.4 L451.8 493.4 L452.3 493.3 L452.8 493.3 L453.3 493.2 L453.8 493.2 L454.3 493.2 L454.8 493.1 L455.3 493.1 L455.8 493.0 L456.3 493.0 L456.8 493.0 L457.3 492.9 L457.8 492.9 L458.3 492.8 L458.8 492.8 L459.3 492.7 L459.8 492.7 L460.3 492.7 L460.8 492.6 L461.3 492.6 L461.8 492.5 L462.3 492.5 L462.8 492.5 L463.3 492.4 L463.8 492.4 L464.2 492.3 L464.7 492.3 L465.2 492.2 L465.7 492.2 L466.2 492.1 L466.7 492.1 L467.2 492.1 L467.7 492.0 L468.2 491.9 L468.7 491.9 L469.2 491.8 L469.7 491.8 L470.2 491.7 L470.7 491.7 L471.2 491.6 L471.7 491.5 L472.2 491.5 L472.7 491.4 L473.2 491.3 L473.7 491.3 L474.2 491.2 L474.7 491.1 L475.2 491.0 L475.7 491.0 L476.2 490.9 L476.7 490.8 L477.2 490.7 L477.6 490.6 L478.1 490.5 L478.6 490.4 L479.1 490.3 L479.6 490.2 L480.1 490.0 L480.6 489.9 L481.1 489.8 L481.6 489.6 L482.1 489.5 L482.6 489.3 L483.1 489.1 L483.6 488.9 L484.1 488.8 L484.6 488.6 L485.1 488.4 L485.6 488.2 L486.1 488.0 L486.6 487.8 L487.1 487.6 L487.6 487.3 L488.1 487.1 L488.6 486.9 L489.1 486.6 L489.6 486.4 L490.1 486.1 L490.6 485.9 L491.1 485.6 L491.5 485.3 L492.0 485.0 L492.5 484.6 L493.0 484.3 L493.5 483.9 L494.0 483.6 L494.5 483.1 L495.0 482.7 L495.5 482.3 L496.0 481.8 L496.5 481.2 L497.0 480.6 L497.5 480.0 L498.0 479.2 L498.5 478.4 L499.0 477.5 L499.5 476.5 L500.0 475.4 L500.5 474.3 L501.0 473.2 L501.5 472.0 L502.0 470.9 L502.5 470.1 L503.0 469.6 L503.5 469.6 L504.0 470.3 L504.5 471.7 L504.9 473.7 L505.4 476.3 L505.9 479.5 L506.4 483.1 L506.9 487.0 L507.4 491.0 L507.9 495.0 L508.4 498.8 L508.9 502.4 L509.4 505.6 L509.9 508.4 L510.4 510.9 L510.9 513.0 L511.4 514.7 L511.9 516.2 L512.4 517.3 L512.9 518.2 L513.4 518.8 L513.9 519.3 L514.4 519.7 L514.9 520.0 L515.4 520.3 L515.9 520.4 L516.4 520.5 L516.9 520.6 L517.4 520.7 L517.9 520.7 L518.3 520.7 L518.8 520.7 L519.3 520.6 L519.8 520.6 L520.3 520.4 L520.8 520.3 L521.3 520.1 L521.8 519.8 L522.3 519.4 L522.8 518.9 L523.3 518.2 L523.8 517.4 L524.3 516.3 L524.8 514.9 L525.3 513.2 L525.8 511.1 L526.3 508.7 L526.8 505.9 L527.3 502.7 L527.8 499.2 L528.3 495.4 L528.8 491.4 L529.3 487.4 L529.8 483.5 L530.3 479.8 L530.8 476.6 L531.3 473.9 L531.8 471.8 L532.2 470.4 L532.7 469.7 L533.2 469.6 L533.7 470.0 L534.2 470.9 L534.7 472.0 L535.2 473.2 L535.7 474.5 L536.2 475.7 L536.7 476.9 L537.2 478.1 L537.7 479.1 L538.2 480.1 L538.7 481.0 L539.2 481.8 L539.7 482.5 L540.2 483.1 L540.7 483.7 L541.2 484.2 L541.7 484.7 L542.2 485.2 L542.7 485.6 L543.2 486.0 L543.7 486.4 L544.2 486.8 L544.7 487.1 L545.2 487.4 L545.6 487.7 L546.1 488.0 L546.6 488.2 L547.1 488.4 L547.6 488.6 L548.1 488.8 L548.6 489.0 L549.1 489.2 L549.6 489.3 L550.1 489.5 L550.6 489.6 L551.1 489.8 L551.6 489.9 L552.1 490.1 L552.6 490.2 L553.1 490.3 L553.6 490.5 L554.1 490.6 L554.6 490.7 L555.1 490.8 L555.6 490.9 L556.1 491.0 L556.6 491.1 L557.1 491.2 L557.6 491.2 L558.1 491.3 L558.6 491.4 L559.1 491.5 L559.5 491.5 L560.0 491.6 L560.5 491.6 L561.0 491.7 L561.5 491.8 L562.0 491.8 L562.5 491.9 L563.0 491.9 L563.5 492.0 L564.0 492.0 L564.5 492.1 L565.0 492.1 L565.5 492.2 L566.0 492.2 L566.5 492.2 L567.0 492.3 L567.5 492.3 L568.0 492.4 L568.5 492.4 L569.0 492.4 L569.5 492.5 L570.0 492.5 L570.5 492.5 L571.0 492.6 L571.5 492.6 L572.0 492.6 L572.5 492.6 L572.9 492.7 L573.4 492.7 L573.9 492.7 L574.4 492.7 L574.9 492.7 L575.4 492.8 L575.9 492.8 L576.4 492.8 L576.9 492.8 L577.4 492.8 L577.9 492.9 L578.4 492.9 L578.9 492.9 L579.4 492.9 L579.9 492.9 L580.4 492.9 L580.9 493.0 L581.4 493.0 L581.9 493.0 L582.4 493.0 L582.9 493.0 L583.4 493.0 L583.9 493.0 L584.4 493.1 L584.9 493.1 L585.4 493.1 L585.9 493.1 L586.4 493.1 L586.8 493.1 L587.3 493.1 L587.8 493.1 L588.3 493.2 L588.8 493.2 L589.3 493.2 L589.8 493.2 L590.3 493.2 L590.8 493.2 L591.3 493.2 L591.8 493.2 L592.3 493.2 L592.8 493.2 L593.3 493.2" stroke="#1414ee" stroke-width="2.1" fill="none" stroke-linejoin="round"/></g>
<path d="M593.3 225.6 h5.5 M593.3 270.2 h5.5 M593.3 314.6 h5.5 M593.3 359.2 h5.5 M593.3 404.2 h5.5 M593.3 448.2 h5.5 M593.3 492.6 h5.5 M474.20 522.0 v-5 M518.30 522.0 v-5 M562.40 522.0 v-5" stroke="#000" stroke-width="1.3" fill="none"/>
<rect x="443.4" y="195.8" width="149.89999999999998" height="326.2" fill="none" stroke="#000" stroke-width="1.5"/>
<text x="603" y="232.2" font-size="17.5" font-family="'DejaVu Sans','Liberation Sans',sans-serif" text-anchor="start" fill="#000" >1.57 K</text>
<text x="603" y="276.8" font-size="17.5" font-family="'DejaVu Sans','Liberation Sans',sans-serif" text-anchor="start" fill="#000" >1.36 K</text>
<text x="603" y="321.20000000000005" font-size="17.5" font-family="'DejaVu Sans','Liberation Sans',sans-serif" text-anchor="start" fill="#000" >1.14 K</text>
<text x="603" y="365.8" font-size="17.5" font-family="'DejaVu Sans','Liberation Sans',sans-serif" text-anchor="start" fill="#000" >0.94 K</text>
<text x="603" y="410.8" font-size="17.5" font-family="'DejaVu Sans','Liberation Sans',sans-serif" text-anchor="start" fill="#000" >0.73 K</text>
<text x="603" y="454.8" font-size="17.5" font-family="'DejaVu Sans','Liberation Sans',sans-serif" text-anchor="start" fill="#000" >0.53 K</text>
<text x="603" y="499.20000000000005" font-size="17.5" font-family="'DejaVu Sans','Liberation Sans',sans-serif" text-anchor="start" fill="#000" >0.34 K</text>
<text x="471.19999999999993" y="540.2" font-size="17.5" font-family="'DejaVu Sans','Liberation Sans',sans-serif" text-anchor="middle" fill="#000" >−1</text>
<text x="518.3" y="540.2" font-size="17.5" font-family="'DejaVu Sans','Liberation Sans',sans-serif" text-anchor="middle" fill="#000" >0</text>
<text x="562.4" y="540.2" font-size="17.5" font-family="'DejaVu Sans','Liberation Sans',sans-serif" text-anchor="middle" fill="#000" >1</text>
<text x="518" y="562" font-size="17.5" font-family="'DejaVu Sans','Liberation Sans',sans-serif" text-anchor="middle"><tspan font-style="italic">V</tspan> (mV)</text>
<text transform="translate(432.5,359) rotate(-90)" font-size="17.5" font-family="'DejaVu Sans','Liberation Sans',sans-serif" text-anchor="middle" font-style="italic">G<tspan font-style="normal">/</tspan>G<tspan font-size="12.3" dy="3" font-style="normal">0</tspan></text>
</svg>
</body></html>
